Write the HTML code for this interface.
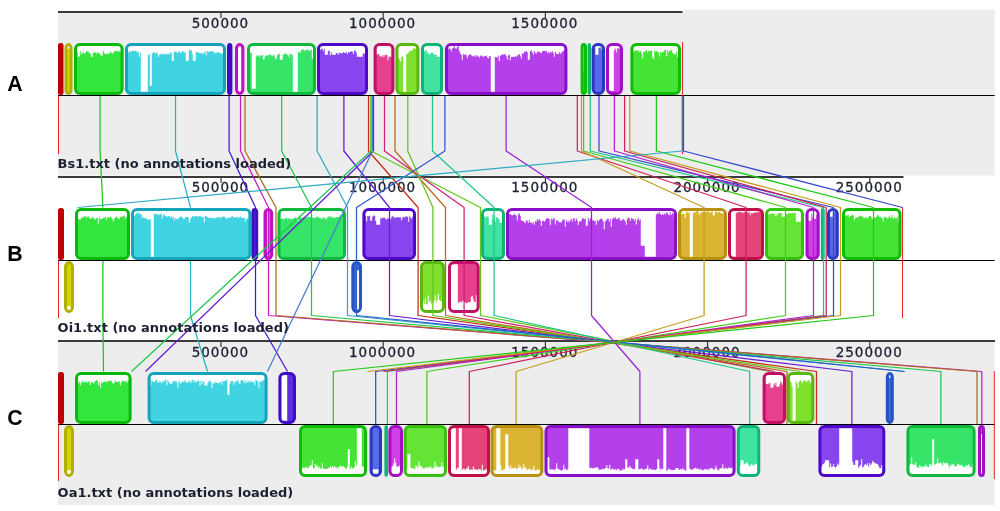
<!DOCTYPE html><html><head><meta charset="utf-8"><style>html,body{margin:0;padding:0;background:#fff;width:1000px;height:511px;overflow:hidden}svg{display:block}</style></head><body>
<svg width="1000" height="511" viewBox="0 0 1000 511">
<rect width="1000" height="511" fill="#fff"/>
<rect x="58" y="9.5" width="936.6" height="166" fill="#ededed"/>
<rect x="58" y="9.5" width="626" height="2" fill="#fff"/>
<rect x="58" y="341" width="936.6" height="164" fill="#ededed"/>
<rect x="59.5" y="44.5" width="2.5" height="49" rx="1" fill="#cc0000"/>
<rect x="59.5" y="44.5" width="2.5" height="49" rx="1" fill="none" stroke="#c00000" stroke-width="3"/>
<rect x="66" y="44.5" width="5" height="49" rx="3.5" fill="#d4d400"/>
<path d="M67.3,45.8 L67.3,48.8 L68.3,48.8 L68.3,48.8 L69.3,48.8 L69.3,48.8 L69.7,48.8 L69.7,45.8Z" fill="#fff"/>
<rect x="66" y="44.5" width="5" height="49" rx="3.5" fill="none" stroke="#b0b000" stroke-width="3"/>
<rect x="75.5" y="44.5" width="46.6" height="49" rx="4.5" fill="#33e63c"/>
<path d="M76.8,45.8 L76.8,52.23 L77.8,52.23 L77.8,57.1 L78.8,57.1 L78.8,56.37 L79.8,56.37 L79.8,51.18 L80.8,51.18 L80.8,54.43 L81.8,54.43 L81.8,53.17 L82.8,53.17 L82.8,52.03 L83.8,52.03 L83.8,53.99 L84.8,53.99 L84.8,52.88 L85.8,52.88 L85.8,51.35 L86.8,51.35 L86.8,51.61 L87.8,51.61 L87.8,51.14 L88.8,51.14 L88.8,53.25 L89.8,53.25 L89.8,53.22 L90.8,53.22 L90.8,56.8 L91.8,56.8 L91.8,56.8 L92.8,56.8 L92.8,52.86 L93.8,52.86 L93.8,52.22 L94.8,52.22 L94.8,52.44 L95.8,52.44 L95.8,53.63 L96.8,53.63 L96.8,52.26 L97.8,52.26 L97.8,52.69 L98.8,52.69 L98.8,53.51 L99.8,53.51 L99.8,54.61 L100.8,54.61 L100.8,55.8 L101.8,55.8 L101.8,55.8 L102.8,55.8 L102.8,50.95 L103.8,50.95 L103.8,53.01 L104.8,53.01 L104.8,54.09 L105.8,54.09 L105.8,53.89 L106.8,53.89 L106.8,53.44 L107.8,53.44 L107.8,54.13 L108.8,54.13 L108.8,53.18 L109.8,53.18 L109.8,51.51 L110.8,51.51 L110.8,52.83 L111.8,52.83 L111.8,53.86 L112.8,53.86 L112.8,52.8 L113.8,52.8 L113.8,51.25 L114.8,51.25 L114.8,51.18 L115.8,51.18 L115.8,50.8 L116.8,50.8 L116.8,50.89 L117.8,50.89 L117.8,51.78 L118.8,51.78 L118.8,51.08 L119.8,51.08 L119.8,52.36 L120.8,52.36 L120.8,45.8Z" fill="#fff"/>
<rect x="75.5" y="44.5" width="46.6" height="49" rx="4.5" fill="none" stroke="#0cb80c" stroke-width="3"/>
<rect x="126.5" y="44.5" width="98" height="49" rx="4.5" fill="#40d4e2"/>
<path d="M127.8,45.8 L127.8,52.85 L128.8,52.85 L128.8,51.52 L129.8,51.52 L129.8,50.81 L130.8,50.81 L130.8,52 L131.8,52 L131.8,50.76 L132.8,50.76 L132.8,50.62 L133.8,50.62 L133.8,51.56 L134.8,51.56 L134.8,50.56 L135.8,50.56 L135.8,51.06 L136.8,51.06 L136.8,52.6 L137.8,52.6 L137.8,52.12 L138.8,52.12 L138.8,56.75 L139.8,56.75 L139.8,52.64 L140.8,52.64 L140.8,91.8 L141.8,91.8 L141.8,91.8 L142.8,91.8 L142.8,91.8 L143.8,91.8 L143.8,91.8 L144.8,91.8 L144.8,91.8 L145.8,91.8 L145.8,91.8 L146.8,91.8 L146.8,91.8 L147.8,91.8 L147.8,54.7 L148.8,54.7 L148.8,54.19 L149.8,54.19 L149.8,85.8 L150.8,85.8 L150.8,85.8 L151.8,85.8 L151.8,53.59 L152.8,53.59 L152.8,52.17 L153.8,52.17 L153.8,52.36 L154.8,52.36 L154.8,53.64 L155.8,53.64 L155.8,52.29 L156.8,52.29 L156.8,53.08 L157.8,53.08 L157.8,56.9 L158.8,56.9 L158.8,54.71 L159.8,54.71 L159.8,54.56 L160.8,54.56 L160.8,53.7 L161.8,53.7 L161.8,54.29 L162.8,54.29 L162.8,54.44 L163.8,54.44 L163.8,53.13 L164.8,53.13 L164.8,54.39 L165.8,54.39 L165.8,54.35 L166.8,54.35 L166.8,54.11 L167.8,54.11 L167.8,53.44 L168.8,53.44 L168.8,54.76 L169.8,54.76 L169.8,51.97 L170.8,51.97 L170.8,53.47 L171.8,53.47 L171.8,60.8 L172.8,60.8 L172.8,60.8 L173.8,60.8 L173.8,52.02 L174.8,52.02 L174.8,51.19 L175.8,51.19 L175.8,51.88 L176.8,51.88 L176.8,52.62 L177.8,52.62 L177.8,52.45 L178.8,52.45 L178.8,51.05 L179.8,51.05 L179.8,52.5 L180.8,52.5 L180.8,52.63 L181.8,52.63 L181.8,51.34 L182.8,51.34 L182.8,51.25 L183.8,51.25 L183.8,52.71 L184.8,52.71 L184.8,51.89 L185.8,51.89 L185.8,60.8 L186.8,60.8 L186.8,60.8 L187.8,60.8 L187.8,60.8 L188.8,60.8 L188.8,49.58 L189.8,49.58 L189.8,50.85 L190.8,50.85 L190.8,49.82 L191.8,49.82 L191.8,53.56 L192.8,53.56 L192.8,60.8 L193.8,60.8 L193.8,60.8 L194.8,60.8 L194.8,60.8 L195.8,60.8 L195.8,52.01 L196.8,52.01 L196.8,52 L197.8,52 L197.8,52.64 L198.8,52.64 L198.8,52.42 L199.8,52.42 L199.8,53.45 L200.8,53.45 L200.8,52.71 L201.8,52.71 L201.8,53.44 L202.8,53.44 L202.8,53.69 L203.8,53.69 L203.8,52.82 L204.8,52.82 L204.8,51.27 L205.8,51.27 L205.8,55.23 L206.8,55.23 L206.8,50.93 L207.8,50.93 L207.8,52.12 L208.8,52.12 L208.8,51.56 L209.8,51.56 L209.8,51.86 L210.8,51.86 L210.8,50.94 L211.8,50.94 L211.8,51 L212.8,51 L212.8,52.3 L213.8,52.3 L213.8,52.31 L214.8,52.31 L214.8,53.18 L215.8,53.18 L215.8,52.84 L216.8,52.84 L216.8,52.53 L217.8,52.53 L217.8,52.33 L218.8,52.33 L218.8,52.38 L219.8,52.38 L219.8,52.96 L220.8,52.96 L220.8,53.78 L221.8,53.78 L221.8,53.22 L222.8,53.22 L222.8,53.73 L223.2,53.73 L223.2,45.8Z" fill="#fff"/>
<rect x="126.5" y="44.5" width="98" height="49" rx="4.5" fill="none" stroke="#18a4b8" stroke-width="3"/>
<rect x="228.5" y="44.5" width="2.4" height="49" rx="2.2" fill="#5a2ee0"/>
<rect x="228.5" y="44.5" width="2.4" height="49" rx="2.2" fill="none" stroke="#3c0cc8" stroke-width="3"/>
<rect x="236.5" y="44.5" width="6.4" height="49" rx="4.2" fill="#d030d0"/>
<path d="M237.8,45.8 L237.8,92.8 L238.8,92.8 L238.8,92.8 L239.8,92.8 L239.8,92.8 L240.8,92.8 L240.8,92.8 L241.6,92.8 L241.6,45.8Z" fill="#fff"/>
<rect x="236.5" y="44.5" width="6.4" height="49" rx="4.2" fill="none" stroke="#c010c0" stroke-width="3"/>
<rect x="248.5" y="44.5" width="66" height="49" rx="4.5" fill="#36e468"/>
<path d="M249.8,45.8 L249.8,52.94 L250.8,52.94 L250.8,52.43 L251.8,52.43 L251.8,88.8 L252.8,88.8 L252.8,88.8 L253.8,88.8 L253.8,88.8 L254.8,88.8 L254.8,88.8 L255.8,88.8 L255.8,56.61 L256.8,56.61 L256.8,55.43 L257.8,55.43 L257.8,55.43 L258.8,55.43 L258.8,56.82 L259.8,56.82 L259.8,55.36 L260.8,55.36 L260.8,55.68 L261.8,55.68 L261.8,55.05 L262.8,55.05 L262.8,59.55 L263.8,59.55 L263.8,58.65 L264.8,58.65 L264.8,56.07 L265.8,56.07 L265.8,54.88 L266.8,54.88 L266.8,56.15 L267.8,56.15 L267.8,55 L268.8,55 L268.8,54.44 L269.8,54.44 L269.8,54.79 L270.8,54.79 L270.8,55.21 L271.8,55.21 L271.8,56.22 L272.8,56.22 L272.8,54.95 L273.8,54.95 L273.8,55.42 L274.8,55.42 L274.8,58.25 L275.8,58.25 L275.8,59.29 L276.8,59.29 L276.8,55.31 L277.8,55.31 L277.8,54.15 L278.8,54.15 L278.8,53.64 L279.8,53.64 L279.8,59.8 L280.8,59.8 L280.8,59.8 L281.8,59.8 L281.8,59.8 L282.8,59.8 L282.8,54.67 L283.8,54.67 L283.8,53.84 L284.8,53.84 L284.8,53.41 L285.8,53.41 L285.8,53.87 L286.8,53.87 L286.8,55.08 L287.8,55.08 L287.8,54.9 L288.8,54.9 L288.8,57.15 L289.8,57.15 L289.8,53.55 L290.8,53.55 L290.8,54.48 L291.8,54.48 L291.8,54.63 L292.8,54.63 L292.8,91.8 L293.8,91.8 L293.8,91.8 L294.8,91.8 L294.8,91.8 L295.8,91.8 L295.8,91.8 L296.8,91.8 L296.8,91.8 L297.8,91.8 L297.8,52.31 L298.8,52.31 L298.8,51.62 L299.8,51.62 L299.8,53.03 L300.8,53.03 L300.8,49.68 L301.8,49.68 L301.8,49.74 L302.8,49.74 L302.8,49.34 L303.8,49.34 L303.8,51.01 L304.8,51.01 L304.8,50.2 L305.8,50.2 L305.8,49.92 L306.8,49.92 L306.8,49.48 L307.8,49.48 L307.8,49.55 L308.8,49.55 L308.8,51.22 L309.8,51.22 L309.8,50.07 L310.8,50.07 L310.8,49.8 L311.8,49.8 L311.8,58.8 L312.8,58.8 L312.8,58.8 L313.2,58.8 L313.2,45.8Z" fill="#fff"/>
<rect x="248.5" y="44.5" width="66" height="49" rx="4.5" fill="none" stroke="#10b840" stroke-width="3"/>
<rect x="318.5" y="44.5" width="48" height="49" rx="4.5" fill="#8844ee"/>
<path d="M319.8,45.8 L319.8,49.92 L320.8,49.92 L320.8,48.88 L321.8,48.88 L321.8,48.68 L322.8,48.68 L322.8,51.2 L323.8,51.2 L323.8,48.83 L324.8,48.83 L324.8,54.8 L325.8,54.8 L325.8,54.8 L326.8,54.8 L326.8,54.8 L327.8,54.8 L327.8,50.89 L328.8,50.89 L328.8,50.54 L329.8,50.54 L329.8,55.34 L330.8,55.34 L330.8,52.35 L331.8,52.35 L331.8,54.8 L332.8,54.8 L332.8,54.8 L333.8,54.8 L333.8,54.8 L334.8,54.8 L334.8,54.8 L335.8,54.8 L335.8,52.97 L336.8,52.97 L336.8,53.22 L337.8,53.22 L337.8,54.72 L338.8,54.72 L338.8,52.4 L339.8,52.4 L339.8,53.31 L340.8,53.31 L340.8,53.23 L341.8,53.23 L341.8,53.3 L342.8,53.3 L342.8,52.01 L343.8,52.01 L343.8,53.01 L344.8,53.01 L344.8,52.94 L345.8,52.94 L345.8,51.85 L346.8,51.85 L346.8,54.23 L347.8,54.23 L347.8,52.29 L348.8,52.29 L348.8,52.35 L349.8,52.35 L349.8,51.69 L350.8,51.69 L350.8,51.36 L351.8,51.36 L351.8,51.76 L352.8,51.76 L352.8,53.94 L353.8,53.94 L353.8,50.75 L354.8,50.75 L354.8,50.5 L355.8,50.5 L355.8,52.41 L356.8,52.41 L356.8,56.8 L357.8,56.8 L357.8,56.8 L358.8,56.8 L358.8,56.8 L359.8,56.8 L359.8,56.8 L360.8,56.8 L360.8,56.8 L361.8,56.8 L361.8,56.8 L362.8,56.8 L362.8,52.91 L363.8,52.91 L363.8,54.11 L364.8,54.11 L364.8,53.81 L365.2,53.81 L365.2,45.8Z" fill="#fff"/>
<rect x="318.5" y="44.5" width="48" height="49" rx="4.5" fill="none" stroke="#5008c8" stroke-width="3"/>
<rect x="375.1" y="44.5" width="17.8" height="49" rx="4.5" fill="#e6408e"/>
<path d="M376.4,45.8 L376.4,54.55 L377.4,54.55 L377.4,54.28 L378.4,54.28 L378.4,54.01 L379.4,54.01 L379.4,56.03 L380.4,56.03 L380.4,56.39 L381.4,56.39 L381.4,56.69 L382.4,56.69 L382.4,55.09 L383.4,55.09 L383.4,57.2 L384.4,57.2 L384.4,55.24 L385.4,55.24 L385.4,54.76 L386.4,54.76 L386.4,54.71 L387.4,54.71 L387.4,60.23 L388.4,60.23 L388.4,56.42 L389.4,56.42 L389.4,56.8 L390.4,56.8 L390.4,56.87 L391.4,56.87 L391.4,55.52 L391.6,55.52 L391.6,45.8Z" fill="#fff"/>
<rect x="375.1" y="44.5" width="17.8" height="49" rx="4.5" fill="none" stroke="#c01068" stroke-width="3"/>
<rect x="396.9" y="44.5" width="21" height="49" rx="4.5" fill="#80e030"/>
<path d="M398.2,45.8 L398.2,58.3 L399.2,58.3 L399.2,59.33 L400.2,59.33 L400.2,61.75 L401.2,61.75 L401.2,57.11 L402.2,57.11 L402.2,56.46 L403.2,56.46 L403.2,91.8 L404.2,91.8 L404.2,91.8 L405.2,91.8 L405.2,91.8 L406.2,91.8 L406.2,53.91 L407.2,53.91 L407.2,53.61 L408.2,53.61 L408.2,52.46 L409.2,52.46 L409.2,50.76 L410.2,50.76 L410.2,50.63 L411.2,50.63 L411.2,50.63 L412.2,50.63 L412.2,49.15 L413.2,49.15 L413.2,48.45 L414.2,48.45 L414.2,48.31 L415.2,48.31 L415.2,48.74 L416.2,48.74 L416.2,47.79 L416.6,47.79 L416.6,45.8Z" fill="#fff"/>
<rect x="396.9" y="44.5" width="21" height="49" rx="4.5" fill="none" stroke="#58b810" stroke-width="3"/>
<rect x="422.5" y="44.5" width="19" height="49" rx="4.5" fill="#40e4a0"/>
<path d="M423.8,45.8 L423.8,51.33 L424.8,51.33 L424.8,50.71 L425.8,50.71 L425.8,49.89 L426.8,49.89 L426.8,53.1 L427.8,53.1 L427.8,52.87 L428.8,52.87 L428.8,54.86 L429.8,54.86 L429.8,53.39 L430.8,53.39 L430.8,52.8 L431.8,52.8 L431.8,52.65 L432.8,52.65 L432.8,53.08 L433.8,53.08 L433.8,54.92 L434.8,54.92 L434.8,54.39 L435.8,54.39 L435.8,54.55 L436.8,54.55 L436.8,57 L437.8,57 L437.8,56.8 L438.8,56.8 L438.8,56.8 L439.8,56.8 L439.8,56.8 L440.2,56.8 L440.2,45.8Z" fill="#fff"/>
<rect x="422.5" y="44.5" width="19" height="49" rx="4.5" fill="none" stroke="#10b478" stroke-width="3"/>
<rect x="446.5" y="44.5" width="119.4" height="49" rx="4.5" fill="#b440ec"/>
<path d="M447.8,45.8 L447.8,49.18 L448.8,49.18 L448.8,47.63 L449.8,47.63 L449.8,48.89 L450.8,48.89 L450.8,51.19 L451.8,51.19 L451.8,48.6 L452.8,48.6 L452.8,47.67 L453.8,47.67 L453.8,45.8 L454.8,45.8 L454.8,48.16 L455.8,48.16 L455.8,48.76 L456.8,48.76 L456.8,46.99 L457.8,46.99 L457.8,46.07 L458.8,46.07 L458.8,50.84 L459.8,50.84 L459.8,53.6 L460.8,53.6 L460.8,54.85 L461.8,54.85 L461.8,59.67 L462.8,59.67 L462.8,53.81 L463.8,53.81 L463.8,54.97 L464.8,54.97 L464.8,53.84 L465.8,53.84 L465.8,55.24 L466.8,55.24 L466.8,58.14 L467.8,58.14 L467.8,55.47 L468.8,55.47 L468.8,54.83 L469.8,54.83 L469.8,53.97 L470.8,53.97 L470.8,55.18 L471.8,55.18 L471.8,56.26 L472.8,56.26 L472.8,56.14 L473.8,56.14 L473.8,55.41 L474.8,55.41 L474.8,56.7 L475.8,56.7 L475.8,54.98 L476.8,54.98 L476.8,56.56 L477.8,56.56 L477.8,55.81 L478.8,55.81 L478.8,57.77 L479.8,57.77 L479.8,55.61 L480.8,55.61 L480.8,56.13 L481.8,56.13 L481.8,55.58 L482.8,55.58 L482.8,57.15 L483.8,57.15 L483.8,55.96 L484.8,55.96 L484.8,55.9 L485.8,55.9 L485.8,55.61 L486.8,55.61 L486.8,57.23 L487.8,57.23 L487.8,58.42 L488.8,58.42 L488.8,56.35 L489.8,56.35 L489.8,56.37 L490.8,56.37 L490.8,91.8 L491.8,91.8 L491.8,91.8 L492.8,91.8 L492.8,91.8 L493.8,91.8 L493.8,91.8 L494.8,91.8 L494.8,57.07 L495.8,57.07 L495.8,57.02 L496.8,57.02 L496.8,57.63 L497.8,57.63 L497.8,55.42 L498.8,55.42 L498.8,60.96 L499.8,60.96 L499.8,55.64 L500.8,55.64 L500.8,55.2 L501.8,55.2 L501.8,53.97 L502.8,53.97 L502.8,54.68 L503.8,54.68 L503.8,54.18 L504.8,54.18 L504.8,54.28 L505.8,54.28 L505.8,56.31 L506.8,56.31 L506.8,59.54 L507.8,59.54 L507.8,55.37 L508.8,55.37 L508.8,54.65 L509.8,54.65 L509.8,60.23 L510.8,60.23 L510.8,57.12 L511.8,57.12 L511.8,57.01 L512.8,57.01 L512.8,56.8 L513.8,56.8 L513.8,56.96 L514.8,56.96 L514.8,55.68 L515.8,55.68 L515.8,57.25 L516.8,57.25 L516.8,55.53 L517.8,55.53 L517.8,55.11 L518.8,55.11 L518.8,53.95 L519.8,53.95 L519.8,55.81 L520.8,55.81 L520.8,58.56 L521.8,58.56 L521.8,53.25 L522.8,53.25 L522.8,53.79 L523.8,53.79 L523.8,51.7 L524.8,51.7 L524.8,51.77 L525.8,51.77 L525.8,50.79 L526.8,50.79 L526.8,52.26 L527.8,52.26 L527.8,59.8 L528.8,59.8 L528.8,59.8 L529.8,59.8 L529.8,51.37 L530.8,51.37 L530.8,50.35 L531.8,50.35 L531.8,52.19 L532.8,52.19 L532.8,54.67 L533.8,54.67 L533.8,50.9 L534.8,50.9 L534.8,52.83 L535.8,52.83 L535.8,53.86 L536.8,53.86 L536.8,51.8 L537.8,51.8 L537.8,51.75 L538.8,51.75 L538.8,51.64 L539.8,51.64 L539.8,52.44 L540.8,52.44 L540.8,53.3 L541.8,53.3 L541.8,51.24 L542.8,51.24 L542.8,51.09 L543.8,51.09 L543.8,51.3 L544.8,51.3 L544.8,50.82 L545.8,50.82 L545.8,50.81 L546.8,50.81 L546.8,52.89 L547.8,52.89 L547.8,51.81 L548.8,51.81 L548.8,53.61 L549.8,53.61 L549.8,51.77 L550.8,51.77 L550.8,52.51 L551.8,52.51 L551.8,50.98 L552.8,50.98 L552.8,52.78 L553.8,52.78 L553.8,56.83 L554.8,56.83 L554.8,51.49 L555.8,51.49 L555.8,53.48 L556.8,53.48 L556.8,54.05 L557.8,54.05 L557.8,54.05 L558.8,54.05 L558.8,52.08 L559.8,52.08 L559.8,53.63 L560.8,53.63 L560.8,53.05 L561.8,53.05 L561.8,51.62 L562.8,51.62 L562.8,50.88 L563.8,50.88 L563.8,51 L564.6,51 L564.6,45.8Z" fill="#fff"/>
<rect x="446.5" y="44.5" width="119.4" height="49" rx="4.5" fill="none" stroke="#8a10c8" stroke-width="3"/>
<rect x="582.1" y="44.5" width="3.4" height="49" rx="2.7" fill="#44e434"/>
<path d="M583.4,45.8 L583.4,70.8 L584.2,70.8 L584.2,45.8Z" fill="#fff"/>
<rect x="582.1" y="44.5" width="3.4" height="49" rx="2.7" fill="none" stroke="#10bc04" stroke-width="3"/>
<rect x="589.1" y="44.5" width="0.4" height="49" rx="1.2" fill="#40e4a0"/>
<rect x="589.1" y="44.5" width="0.4" height="49" rx="1.2" fill="none" stroke="#10b478" stroke-width="3"/>
<rect x="593.1" y="44.5" width="10.4" height="49" rx="4.5" fill="#5868e8"/>
<path d="M594.4,45.8 L594.4,48 L595.4,48 L595.4,54.8 L596.4,54.8 L596.4,54.8 L597.4,54.8 L597.4,54.8 L598.4,54.8 L598.4,48.1 L599.4,48.1 L599.4,47.34 L600.4,47.34 L600.4,47.5 L601.4,47.5 L601.4,50.12 L602.2,50.12 L602.2,45.8Z" fill="#fff"/>
<rect x="593.1" y="44.5" width="10.4" height="49" rx="4.5" fill="none" stroke="#2838c0" stroke-width="3"/>
<rect x="607.5" y="44.5" width="14" height="49" rx="4.5" fill="#d040e8"/>
<path d="M608.8,45.8 L608.8,90.8 L609.8,90.8 L609.8,90.8 L610.8,90.8 L610.8,90.8 L611.8,90.8 L611.8,90.8 L612.8,90.8 L612.8,90.8 L613.8,90.8 L613.8,50.08 L614.8,50.08 L614.8,48.46 L615.8,48.46 L615.8,52.62 L616.8,52.62 L616.8,48.29 L617.8,48.29 L617.8,48.38 L618.8,48.38 L618.8,48.55 L619.8,48.55 L619.8,47.45 L620.2,47.45 L620.2,45.8Z" fill="#fff"/>
<rect x="607.5" y="44.5" width="14" height="49" rx="4.5" fill="none" stroke="#a010c0" stroke-width="3"/>
<rect x="631.9" y="44.5" width="47.6" height="49" rx="4.5" fill="#44e434"/>
<path d="M633.2,45.8 L633.2,52.35 L634.2,52.35 L634.2,50.39 L635.2,50.39 L635.2,50.8 L636.2,50.8 L636.2,50.07 L637.2,50.07 L637.2,51.28 L638.2,51.28 L638.2,50.09 L639.2,50.09 L639.2,52.39 L640.2,52.39 L640.2,50.83 L641.2,50.83 L641.2,53.19 L642.2,53.19 L642.2,58.39 L643.2,58.39 L643.2,51.51 L644.2,51.51 L644.2,52.17 L645.2,52.17 L645.2,50.6 L646.2,50.6 L646.2,50.3 L647.2,50.3 L647.2,52.62 L648.2,52.62 L648.2,50.85 L649.2,50.85 L649.2,51.08 L650.2,51.08 L650.2,51.09 L651.2,51.09 L651.2,50.57 L652.2,50.57 L652.2,57.45 L653.2,57.45 L653.2,58.97 L654.2,58.97 L654.2,50.8 L655.2,50.8 L655.2,51.64 L656.2,51.64 L656.2,50.99 L657.2,50.99 L657.2,51.84 L658.2,51.84 L658.2,52.43 L659.2,52.43 L659.2,56.57 L660.2,56.57 L660.2,51.75 L661.2,51.75 L661.2,52.81 L662.2,52.81 L662.2,51.99 L663.2,51.99 L663.2,51.76 L664.2,51.76 L664.2,50.34 L665.2,50.34 L665.2,49.7 L666.2,49.7 L666.2,55.97 L667.2,55.97 L667.2,49.93 L668.2,49.93 L668.2,52.23 L669.2,52.23 L669.2,50.21 L670.2,50.21 L670.2,50.77 L671.2,50.77 L671.2,50.02 L672.2,50.02 L672.2,53.11 L673.2,53.11 L673.2,53.49 L674.2,53.49 L674.2,54.27 L675.2,54.27 L675.2,54.45 L676.2,54.45 L676.2,51.42 L677.2,51.42 L677.2,56.93 L678.2,56.93 L678.2,45.8Z" fill="#fff"/>
<rect x="631.9" y="44.5" width="47.6" height="49" rx="4.5" fill="none" stroke="#10bc04" stroke-width="3"/>
<rect x="59.5" y="209.5" width="3" height="49" rx="1" fill="#cc0000"/>
<rect x="59.5" y="209.5" width="3" height="49" rx="1" fill="none" stroke="#c00000" stroke-width="3"/>
<rect x="76.5" y="209.5" width="52" height="49" rx="4.5" fill="#33e63c"/>
<path d="M77.8,210.8 L77.8,218.63 L78.8,218.63 L78.8,219.38 L79.8,219.38 L79.8,219.38 L80.8,219.38 L80.8,218.36 L81.8,218.36 L81.8,217.05 L82.8,217.05 L82.8,217.56 L83.8,217.56 L83.8,216.21 L84.8,216.21 L84.8,216.14 L85.8,216.14 L85.8,217.8 L86.8,217.8 L86.8,216.72 L87.8,216.72 L87.8,216.17 L88.8,216.17 L88.8,217.67 L89.8,217.67 L89.8,218.97 L90.8,218.97 L90.8,218.47 L91.8,218.47 L91.8,216.75 L92.8,216.75 L92.8,217.85 L93.8,217.85 L93.8,218.79 L94.8,218.79 L94.8,219.74 L95.8,219.74 L95.8,218.02 L96.8,218.02 L96.8,217.69 L97.8,217.69 L97.8,223.63 L98.8,223.63 L98.8,217.26 L99.8,217.26 L99.8,219.19 L100.8,219.19 L100.8,218.82 L101.8,218.82 L101.8,219.1 L102.8,219.1 L102.8,217.74 L103.8,217.74 L103.8,217.82 L104.8,217.82 L104.8,216.61 L105.8,216.61 L105.8,219.89 L106.8,219.89 L106.8,217.36 L107.8,217.36 L107.8,217.18 L108.8,217.18 L108.8,217.85 L109.8,217.85 L109.8,216.86 L110.8,216.86 L110.8,217.39 L111.8,217.39 L111.8,219.07 L112.8,219.07 L112.8,221.5 L113.8,221.5 L113.8,218.76 L114.8,218.76 L114.8,217.82 L115.8,217.82 L115.8,216.22 L116.8,216.22 L116.8,217.45 L117.8,217.45 L117.8,218.15 L118.8,218.15 L118.8,219.34 L119.8,219.34 L119.8,217.52 L120.8,217.52 L120.8,216.22 L121.8,216.22 L121.8,216.94 L122.8,216.94 L122.8,216.06 L123.8,216.06 L123.8,215.61 L124.8,215.61 L124.8,218.47 L125.8,218.47 L125.8,217.06 L126.8,217.06 L126.8,217.56 L127.2,217.56 L127.2,210.8Z" fill="#fff"/>
<rect x="76.5" y="209.5" width="52" height="49" rx="4.5" fill="none" stroke="#0cb80c" stroke-width="3"/>
<rect x="132.5" y="209.5" width="117.5" height="49" rx="4.5" fill="#40d4e2"/>
<path d="M133.8,210.8 L133.8,216.14 L134.8,216.14 L134.8,214.38 L135.8,214.38 L135.8,212.87 L136.8,212.87 L136.8,214.04 L137.8,214.04 L137.8,212.21 L138.8,212.21 L138.8,213.27 L139.8,213.27 L139.8,214.37 L140.8,214.37 L140.8,214.39 L141.8,214.39 L141.8,217.96 L142.8,217.96 L142.8,216.93 L143.8,216.93 L143.8,218.31 L144.8,218.31 L144.8,217.72 L145.8,217.72 L145.8,218.38 L146.8,218.38 L146.8,219.28 L147.8,219.28 L147.8,220.12 L148.8,220.12 L148.8,219.47 L149.8,219.47 L149.8,218.88 L150.8,218.88 L150.8,256.8 L151.8,256.8 L151.8,256.8 L152.8,256.8 L152.8,256.8 L153.8,256.8 L153.8,213.64 L154.8,213.64 L154.8,214.23 L155.8,214.23 L155.8,213.94 L156.8,213.94 L156.8,214.64 L157.8,214.64 L157.8,214.59 L158.8,214.59 L158.8,214.68 L159.8,214.68 L159.8,214.43 L160.8,214.43 L160.8,213.32 L161.8,213.32 L161.8,218.55 L162.8,218.55 L162.8,215.13 L163.8,215.13 L163.8,214.55 L164.8,214.55 L164.8,216.04 L165.8,216.04 L165.8,216.1 L166.8,216.1 L166.8,217.1 L167.8,217.1 L167.8,215.86 L168.8,215.86 L168.8,216.25 L169.8,216.25 L169.8,217.61 L170.8,217.61 L170.8,216.18 L171.8,216.18 L171.8,217.93 L172.8,217.93 L172.8,216.49 L173.8,216.49 L173.8,220.59 L174.8,220.59 L174.8,217.76 L175.8,217.76 L175.8,218.43 L176.8,218.43 L176.8,219.61 L177.8,219.61 L177.8,218.2 L178.8,218.2 L178.8,217.41 L179.8,217.41 L179.8,216.41 L180.8,216.41 L180.8,216.72 L181.8,216.72 L181.8,217.02 L182.8,217.02 L182.8,218.64 L183.8,218.64 L183.8,218.89 L184.8,218.89 L184.8,216.8 L185.8,216.8 L185.8,217.1 L186.8,217.1 L186.8,216.93 L187.8,216.93 L187.8,217.34 L188.8,217.34 L188.8,222.76 L189.8,222.76 L189.8,219.4 L190.8,219.4 L190.8,217.78 L191.8,217.78 L191.8,216.12 L192.8,216.12 L192.8,216.77 L193.8,216.77 L193.8,216.17 L194.8,216.17 L194.8,216.35 L195.8,216.35 L195.8,216.16 L196.8,216.16 L196.8,216.12 L197.8,216.12 L197.8,217.15 L198.8,217.15 L198.8,215.95 L199.8,215.95 L199.8,215.42 L200.8,215.42 L200.8,216.86 L201.8,216.86 L201.8,217.21 L202.8,217.21 L202.8,216.78 L203.8,216.78 L203.8,222.6 L204.8,222.6 L204.8,216.12 L205.8,216.12 L205.8,216.13 L206.8,216.13 L206.8,216.79 L207.8,216.79 L207.8,218.05 L208.8,218.05 L208.8,217.42 L209.8,217.42 L209.8,218 L210.8,218 L210.8,217.95 L211.8,217.95 L211.8,217.14 L212.8,217.14 L212.8,218.23 L213.8,218.23 L213.8,218.38 L214.8,218.38 L214.8,217.67 L215.8,217.67 L215.8,217.83 L216.8,217.83 L216.8,217.61 L217.8,217.61 L217.8,216.98 L218.8,216.98 L218.8,216.96 L219.8,216.96 L219.8,218.39 L220.8,218.39 L220.8,217.09 L221.8,217.09 L221.8,217.04 L222.8,217.04 L222.8,216.56 L223.8,216.56 L223.8,216.44 L224.8,216.44 L224.8,217.76 L225.8,217.76 L225.8,218.8 L226.8,218.8 L226.8,217.63 L227.8,217.63 L227.8,218.25 L228.8,218.25 L228.8,217.5 L229.8,217.5 L229.8,217.74 L230.8,217.74 L230.8,216.66 L231.8,216.66 L231.8,215.81 L232.8,215.81 L232.8,217.44 L233.8,217.44 L233.8,217.23 L234.8,217.23 L234.8,217.02 L235.8,217.02 L235.8,217.28 L236.8,217.28 L236.8,217.7 L237.8,217.7 L237.8,217 L238.8,217 L238.8,217.56 L239.8,217.56 L239.8,216.37 L240.8,216.37 L240.8,217.75 L241.8,217.75 L241.8,217.91 L242.8,217.91 L242.8,218.06 L243.8,218.06 L243.8,217.67 L244.8,217.67 L244.8,221.39 L245.8,221.39 L245.8,218.84 L246.8,218.84 L246.8,218.83 L247.8,218.83 L247.8,218.44 L248.7,218.44 L248.7,210.8Z" fill="#fff"/>
<rect x="132.5" y="209.5" width="117.5" height="49" rx="4.5" fill="none" stroke="#18a4b8" stroke-width="3"/>
<rect x="253" y="209.5" width="3.7" height="49" rx="2.85" fill="#5a2ee0"/>
<rect x="253" y="209.5" width="3.7" height="49" rx="2.85" fill="none" stroke="#3c0cc8" stroke-width="3"/>
<rect x="265" y="209.5" width="6.7" height="49" rx="4.35" fill="#d030d0"/>
<path d="M266.3,210.8 L266.3,210.8 L267.3,210.8 L267.3,255.8 L268.3,255.8 L268.3,255.8 L269.3,255.8 L269.3,210.8 L270.3,210.8 L270.3,210.8 L270.4,210.8 L270.4,210.8Z" fill="#fff"/>
<rect x="265" y="209.5" width="6.7" height="49" rx="4.35" fill="none" stroke="#c010c0" stroke-width="3"/>
<rect x="279" y="209.5" width="65.5" height="49" rx="4.5" fill="#36e468"/>
<path d="M280.3,210.8 L280.3,218.38 L281.3,218.38 L281.3,219.06 L282.3,219.06 L282.3,218.15 L283.3,218.15 L283.3,219.22 L284.3,219.22 L284.3,218.92 L285.3,218.92 L285.3,217.76 L286.3,217.76 L286.3,217.64 L287.3,217.64 L287.3,219.43 L288.3,219.43 L288.3,218.09 L289.3,218.09 L289.3,218.65 L290.3,218.65 L290.3,218.77 L291.3,218.77 L291.3,219.56 L292.3,219.56 L292.3,218.83 L293.3,218.83 L293.3,218.03 L294.3,218.03 L294.3,218.09 L295.3,218.09 L295.3,217.4 L296.3,217.4 L296.3,220.36 L297.3,220.36 L297.3,220.85 L298.3,220.85 L298.3,217.73 L299.3,217.73 L299.3,217.48 L300.3,217.48 L300.3,217.03 L301.3,217.03 L301.3,218.48 L302.3,218.48 L302.3,217.25 L303.3,217.25 L303.3,217.16 L304.3,217.16 L304.3,216.45 L305.3,216.45 L305.3,217.74 L306.3,217.74 L306.3,217.33 L307.3,217.33 L307.3,216.56 L308.3,216.56 L308.3,216.53 L309.3,216.53 L309.3,217.55 L310.3,217.55 L310.3,217.03 L311.3,217.03 L311.3,217.04 L312.3,217.04 L312.3,217.84 L313.3,217.84 L313.3,218.31 L314.3,218.31 L314.3,217.5 L315.3,217.5 L315.3,217.47 L316.3,217.47 L316.3,216.61 L317.3,216.61 L317.3,217.1 L318.3,217.1 L318.3,217.39 L319.3,217.39 L319.3,217.71 L320.3,217.71 L320.3,218.28 L321.3,218.28 L321.3,219.03 L322.3,219.03 L322.3,217.17 L323.3,217.17 L323.3,218.42 L324.3,218.42 L324.3,216.99 L325.3,216.99 L325.3,219.59 L326.3,219.59 L326.3,218.42 L327.3,218.42 L327.3,217 L328.3,217 L328.3,216.17 L329.3,216.17 L329.3,217.28 L330.3,217.28 L330.3,216.14 L331.3,216.14 L331.3,217.16 L332.3,217.16 L332.3,217.68 L333.3,217.68 L333.3,217.54 L334.3,217.54 L334.3,217.68 L335.3,217.68 L335.3,217.53 L336.3,217.53 L336.3,217.07 L337.3,217.07 L337.3,216.95 L338.3,216.95 L338.3,217.17 L339.3,217.17 L339.3,215.73 L340.3,215.73 L340.3,214.86 L341.3,214.86 L341.3,214.3 L342.3,214.3 L342.3,214.24 L343.2,214.24 L343.2,210.8Z" fill="#fff"/>
<rect x="279" y="209.5" width="65.5" height="49" rx="4.5" fill="none" stroke="#10b840" stroke-width="3"/>
<rect x="363.9" y="209.5" width="50.6" height="49" rx="4.5" fill="#8844ee"/>
<path d="M365.2,210.8 L365.2,216.15 L366.2,216.15 L366.2,221.39 L367.2,221.39 L367.2,216.09 L368.2,216.09 L368.2,216.33 L369.2,216.33 L369.2,215.66 L370.2,215.66 L370.2,220.86 L371.2,220.86 L371.2,220.39 L372.2,220.39 L372.2,216.54 L373.2,216.54 L373.2,215.62 L374.2,215.62 L374.2,215.76 L375.2,215.76 L375.2,220.98 L376.2,220.98 L376.2,224.8 L377.2,224.8 L377.2,224.8 L378.2,224.8 L378.2,224.8 L379.2,224.8 L379.2,224.8 L380.2,224.8 L380.2,218.13 L381.2,218.13 L381.2,218.38 L382.2,218.38 L382.2,217.79 L383.2,217.79 L383.2,217.87 L384.2,217.87 L384.2,217.56 L385.2,217.56 L385.2,219.27 L386.2,219.27 L386.2,219.4 L387.2,219.4 L387.2,218.21 L388.2,218.21 L388.2,218.46 L389.2,218.46 L389.2,223.04 L390.2,223.04 L390.2,219.09 L391.2,219.09 L391.2,216.81 L392.2,216.81 L392.2,215.72 L393.2,215.72 L393.2,217.53 L394.2,217.53 L394.2,217.29 L395.2,217.29 L395.2,217.72 L396.2,217.72 L396.2,217.14 L397.2,217.14 L397.2,217.18 L398.2,217.18 L398.2,217.18 L399.2,217.18 L399.2,217.18 L400.2,217.18 L400.2,217.46 L401.2,217.46 L401.2,220.4 L402.2,220.4 L402.2,217.53 L403.2,217.53 L403.2,216.66 L404.2,216.66 L404.2,217.47 L405.2,217.47 L405.2,216.42 L406.2,216.42 L406.2,216.55 L407.2,216.55 L407.2,216.69 L408.2,216.69 L408.2,221.82 L409.2,221.82 L409.2,216.37 L410.2,216.37 L410.2,217.83 L411.2,217.83 L411.2,218.7 L412.2,218.7 L412.2,216.72 L413.2,216.72 L413.2,210.8Z" fill="#fff"/>
<rect x="363.9" y="209.5" width="50.6" height="49" rx="4.5" fill="none" stroke="#5008c8" stroke-width="3"/>
<rect x="482.5" y="209.5" width="21" height="49" rx="4.5" fill="#40e4a0"/>
<path d="M483.8,210.8 L483.8,216.16 L484.8,216.16 L484.8,217.8 L485.8,217.8 L485.8,216.16 L486.8,216.16 L486.8,216.49 L487.8,216.49 L487.8,216.7 L488.8,216.7 L488.8,224.8 L489.8,224.8 L489.8,224.8 L490.8,224.8 L490.8,224.8 L491.8,224.8 L491.8,214.53 L492.8,214.53 L492.8,219.62 L493.8,219.62 L493.8,216.05 L494.8,216.05 L494.8,221.61 L495.8,221.61 L495.8,216.96 L496.8,216.96 L496.8,217.89 L497.8,217.89 L497.8,218.34 L498.8,218.34 L498.8,219.71 L499.8,219.71 L499.8,222.8 L500.8,222.8 L500.8,222.8 L501.8,222.8 L501.8,222.8 L502.2,222.8 L502.2,210.8Z" fill="#fff"/>
<rect x="482.5" y="209.5" width="21" height="49" rx="4.5" fill="none" stroke="#10b478" stroke-width="3"/>
<rect x="507.5" y="209.5" width="168" height="49" rx="4.5" fill="#b440ec"/>
<path d="M508.8,210.8 L508.8,213.9 L509.8,213.9 L509.8,214.18 L510.8,214.18 L510.8,214.74 L511.8,214.74 L511.8,215.48 L512.8,215.48 L512.8,215.05 L513.8,215.05 L513.8,213.86 L514.8,213.86 L514.8,215.12 L515.8,215.12 L515.8,215.56 L516.8,215.56 L516.8,220.58 L517.8,220.58 L517.8,214.61 L518.8,214.61 L518.8,213.32 L519.8,213.32 L519.8,215.8 L520.8,215.8 L520.8,220.16 L521.8,220.16 L521.8,220.9 L522.8,220.9 L522.8,220.92 L523.8,220.92 L523.8,221.96 L524.8,221.96 L524.8,223.25 L525.8,223.25 L525.8,220.04 L526.8,220.04 L526.8,220.83 L527.8,220.83 L527.8,222.9 L528.8,222.9 L528.8,220.1 L529.8,220.1 L529.8,222.62 L530.8,222.62 L530.8,222.42 L531.8,222.42 L531.8,223.61 L532.8,223.61 L532.8,221.97 L533.8,221.97 L533.8,224.77 L534.8,224.77 L534.8,221.18 L535.8,221.18 L535.8,221.42 L536.8,221.42 L536.8,219.16 L537.8,219.16 L537.8,220.38 L538.8,220.38 L538.8,218.67 L539.8,218.67 L539.8,220.55 L540.8,220.55 L540.8,226.11 L541.8,226.11 L541.8,221.07 L542.8,221.07 L542.8,220.61 L543.8,220.61 L543.8,221.83 L544.8,221.83 L544.8,220.41 L545.8,220.41 L545.8,218.6 L546.8,218.6 L546.8,217.93 L547.8,217.93 L547.8,218.52 L548.8,218.52 L548.8,218.91 L549.8,218.91 L549.8,225.13 L550.8,225.13 L550.8,218.56 L551.8,218.56 L551.8,219.97 L552.8,219.97 L552.8,218.29 L553.8,218.29 L553.8,218.57 L554.8,218.57 L554.8,224.39 L555.8,224.39 L555.8,220.55 L556.8,220.55 L556.8,220.37 L557.8,220.37 L557.8,221.27 L558.8,221.27 L558.8,222.35 L559.8,222.35 L559.8,222.14 L560.8,222.14 L560.8,222.56 L561.8,222.56 L561.8,220.51 L562.8,220.51 L562.8,219.52 L563.8,219.52 L563.8,219.51 L564.8,219.51 L564.8,226.7 L565.8,226.7 L565.8,219.95 L566.8,219.95 L566.8,221.94 L567.8,221.94 L567.8,220.84 L568.8,220.84 L568.8,222.24 L569.8,222.24 L569.8,220.17 L570.8,220.17 L570.8,218.38 L571.8,218.38 L571.8,221.54 L572.8,221.54 L572.8,218.31 L573.8,218.31 L573.8,218.61 L574.8,218.61 L574.8,221.22 L575.8,221.22 L575.8,218.24 L576.8,218.24 L576.8,220.21 L577.8,220.21 L577.8,224.91 L578.8,224.91 L578.8,221.78 L579.8,221.78 L579.8,221.3 L580.8,221.3 L580.8,220.74 L581.8,220.74 L581.8,218.33 L582.8,218.33 L582.8,218.18 L583.8,218.18 L583.8,219.15 L584.8,219.15 L584.8,218.38 L585.8,218.38 L585.8,225.88 L586.8,225.88 L586.8,225.39 L587.8,225.39 L587.8,218.08 L588.8,218.08 L588.8,220.87 L589.8,220.87 L589.8,218.53 L590.8,218.53 L590.8,217.52 L591.8,217.52 L591.8,220.56 L592.8,220.56 L592.8,219.85 L593.8,219.85 L593.8,221.29 L594.8,221.29 L594.8,220.9 L595.8,220.9 L595.8,224.67 L596.8,224.67 L596.8,219.73 L597.8,219.73 L597.8,221.46 L598.8,221.46 L598.8,219.98 L599.8,219.98 L599.8,218.82 L600.8,218.82 L600.8,218.7 L601.8,218.7 L601.8,219.38 L602.8,219.38 L602.8,221.49 L603.8,221.49 L603.8,229.27 L604.8,229.27 L604.8,221.53 L605.8,221.53 L605.8,220.3 L606.8,220.3 L606.8,218.87 L607.8,218.87 L607.8,218.86 L608.8,218.86 L608.8,221.74 L609.8,221.74 L609.8,218.65 L610.8,218.65 L610.8,227.01 L611.8,227.01 L611.8,219.35 L612.8,219.35 L612.8,217.44 L613.8,217.44 L613.8,218.25 L614.8,218.25 L614.8,216.99 L615.8,216.99 L615.8,218.94 L616.8,218.94 L616.8,219.2 L617.8,219.2 L617.8,218.31 L618.8,218.31 L618.8,217.63 L619.8,217.63 L619.8,220.27 L620.8,220.27 L620.8,221.04 L621.8,221.04 L621.8,219.87 L622.8,219.87 L622.8,218.8 L623.8,218.8 L623.8,219.96 L624.8,219.96 L624.8,221.27 L625.8,221.27 L625.8,224.81 L626.8,224.81 L626.8,219.09 L627.8,219.09 L627.8,217.53 L628.8,217.53 L628.8,218.26 L629.8,218.26 L629.8,220.92 L630.8,220.92 L630.8,217.99 L631.8,217.99 L631.8,219.06 L632.8,219.06 L632.8,218.48 L633.8,218.48 L633.8,220.85 L634.8,220.85 L634.8,218.63 L635.8,218.63 L635.8,224.55 L636.8,224.55 L636.8,219.56 L637.8,219.56 L637.8,217.99 L638.8,217.99 L638.8,220.61 L639.8,220.61 L639.8,219.27 L640.8,219.27 L640.8,245.8 L641.8,245.8 L641.8,245.8 L642.8,245.8 L642.8,245.8 L643.8,245.8 L643.8,245.8 L644.8,245.8 L644.8,256.8 L645.8,256.8 L645.8,256.8 L646.8,256.8 L646.8,256.8 L647.8,256.8 L647.8,256.8 L648.8,256.8 L648.8,256.8 L649.8,256.8 L649.8,256.8 L650.8,256.8 L650.8,256.8 L651.8,256.8 L651.8,256.8 L652.8,256.8 L652.8,256.8 L653.8,256.8 L653.8,256.8 L654.8,256.8 L654.8,256.8 L655.8,256.8 L655.8,214.39 L656.8,214.39 L656.8,213.25 L657.8,213.25 L657.8,213.7 L658.8,213.7 L658.8,211.84 L659.8,211.84 L659.8,213.91 L660.8,213.91 L660.8,215 L661.8,215 L661.8,213.39 L662.8,213.39 L662.8,214.88 L663.8,214.88 L663.8,213.38 L664.8,213.38 L664.8,214.59 L665.8,214.59 L665.8,212.57 L666.8,212.57 L666.8,212.75 L667.8,212.75 L667.8,214.49 L668.8,214.49 L668.8,215.15 L669.8,215.15 L669.8,211.92 L670.8,211.92 L670.8,214.9 L671.8,214.9 L671.8,212.72 L672.8,212.72 L672.8,213.7 L673.8,213.7 L673.8,217.85 L674.2,217.85 L674.2,210.8Z" fill="#fff"/>
<rect x="507.5" y="209.5" width="168" height="49" rx="4.5" fill="none" stroke="#8a10c8" stroke-width="3"/>
<rect x="679.5" y="209.5" width="46" height="49" rx="4.5" fill="#dcb434"/>
<path d="M680.8,210.8 L680.8,214.73 L681.8,214.73 L681.8,213.53 L682.8,213.53 L682.8,213.86 L683.8,213.86 L683.8,213.65 L684.8,213.65 L684.8,217.7 L685.8,217.7 L685.8,212.21 L686.8,212.21 L686.8,211.68 L687.8,211.68 L687.8,213.19 L688.8,213.19 L688.8,211.96 L689.8,211.96 L689.8,256.8 L690.8,256.8 L690.8,256.8 L691.8,256.8 L691.8,256.8 L692.8,256.8 L692.8,212.6 L693.8,212.6 L693.8,212.44 L694.8,212.44 L694.8,212.26 L695.8,212.26 L695.8,211.37 L696.8,211.37 L696.8,211.02 L697.8,211.02 L697.8,211.61 L698.8,211.61 L698.8,215.03 L699.8,215.03 L699.8,212.87 L700.8,212.87 L700.8,212.68 L701.8,212.68 L701.8,211.66 L702.8,211.66 L702.8,211.97 L703.8,211.97 L703.8,212.48 L704.8,212.48 L704.8,211.87 L705.8,211.87 L705.8,211.43 L706.8,211.43 L706.8,211.69 L707.8,211.69 L707.8,210.82 L708.8,210.82 L708.8,212.72 L709.8,212.72 L709.8,212.59 L710.8,212.59 L710.8,211.84 L711.8,211.84 L711.8,211.61 L712.8,211.61 L712.8,215.78 L713.8,215.78 L713.8,214.91 L714.8,214.91 L714.8,211.95 L715.8,211.95 L715.8,211.16 L716.8,211.16 L716.8,213.1 L717.8,213.1 L717.8,211.68 L718.8,211.68 L718.8,211.7 L719.8,211.7 L719.8,212.39 L720.8,212.39 L720.8,213.17 L721.8,213.17 L721.8,213.22 L722.8,213.22 L722.8,213.3 L723.8,213.3 L723.8,213.39 L724.2,213.39 L724.2,210.8Z" fill="#fff"/>
<rect x="679.5" y="209.5" width="46" height="49" rx="4.5" fill="none" stroke="#b89010" stroke-width="3"/>
<rect x="729.5" y="209.5" width="33" height="49" rx="4.5" fill="#e44478"/>
<path d="M730.8,210.8 L730.8,256.8 L731.8,256.8 L731.8,256.8 L732.8,256.8 L732.8,256.8 L733.8,256.8 L733.8,256.8 L734.8,256.8 L734.8,256.8 L735.8,256.8 L735.8,213.37 L736.8,213.37 L736.8,212.36 L737.8,212.36 L737.8,212.21 L738.8,212.21 L738.8,211.73 L739.8,211.73 L739.8,212.24 L740.8,212.24 L740.8,211.82 L741.8,211.82 L741.8,213.04 L742.8,213.04 L742.8,212.41 L743.8,212.41 L743.8,211.83 L744.8,211.83 L744.8,212.33 L745.8,212.33 L745.8,211.24 L746.8,211.24 L746.8,211.47 L747.8,211.47 L747.8,212.89 L748.8,212.89 L748.8,211.74 L749.8,211.74 L749.8,215.31 L750.8,215.31 L750.8,212.77 L751.8,212.77 L751.8,213.56 L752.8,213.56 L752.8,212.84 L753.8,212.84 L753.8,212.53 L754.8,212.53 L754.8,212.86 L755.8,212.86 L755.8,212.13 L756.8,212.13 L756.8,211.85 L757.8,211.85 L757.8,212.6 L758.8,212.6 L758.8,211.36 L759.8,211.36 L759.8,211.71 L760.8,211.71 L760.8,212.29 L761.2,212.29 L761.2,210.8Z" fill="#fff"/>
<rect x="729.5" y="209.5" width="33" height="49" rx="4.5" fill="none" stroke="#c01048" stroke-width="3"/>
<rect x="766.5" y="209.5" width="36" height="49" rx="4.5" fill="#64e434"/>
<path d="M767.8,210.8 L767.8,214.21 L768.8,214.21 L768.8,213.5 L769.8,213.5 L769.8,214.34 L770.8,214.34 L770.8,213.72 L771.8,213.72 L771.8,212.81 L772.8,212.81 L772.8,214.06 L773.8,214.06 L773.8,213.59 L774.8,213.59 L774.8,215.8 L775.8,215.8 L775.8,215.8 L776.8,215.8 L776.8,214.38 L777.8,214.38 L777.8,213.01 L778.8,213.01 L778.8,213.22 L779.8,213.22 L779.8,212.66 L780.8,212.66 L780.8,213.33 L781.8,213.33 L781.8,216.8 L782.8,216.8 L782.8,216.8 L783.8,216.8 L783.8,216.8 L784.8,216.8 L784.8,216.57 L785.8,216.57 L785.8,214.17 L786.8,214.17 L786.8,213.93 L787.8,213.93 L787.8,213.52 L788.8,213.52 L788.8,212.92 L789.8,212.92 L789.8,213.23 L790.8,213.23 L790.8,213.42 L791.8,213.42 L791.8,212.6 L792.8,212.6 L792.8,213.56 L793.8,213.56 L793.8,212.61 L794.8,212.61 L794.8,213.1 L795.8,213.1 L795.8,221.8 L796.8,221.8 L796.8,221.8 L797.8,221.8 L797.8,221.8 L798.8,221.8 L798.8,221.8 L799.8,221.8 L799.8,221.8 L800.8,221.8 L800.8,213.24 L801.2,213.24 L801.2,210.8Z" fill="#fff"/>
<rect x="766.5" y="209.5" width="36" height="49" rx="4.5" fill="none" stroke="#38c010" stroke-width="3"/>
<rect x="807" y="209.5" width="11.2" height="49" rx="4.5" fill="#d040e8"/>
<path d="M808.3,210.8 L808.3,220.8 L809.3,220.8 L809.3,220.8 L810.3,220.8 L810.3,220.8 L811.3,220.8 L811.3,213.57 L812.3,213.57 L812.3,217.86 L813.3,217.86 L813.3,218.8 L814.3,218.8 L814.3,218.8 L815.3,218.8 L815.3,218.8 L816.3,218.8 L816.3,214.97 L816.9,214.97 L816.9,210.8Z" fill="#fff"/>
<rect x="807" y="209.5" width="11.2" height="49" rx="4.5" fill="none" stroke="#a010c0" stroke-width="3"/>
<rect x="822.3" y="209.5" width="0.9" height="49" rx="1.45" fill="#40e4a0"/>
<rect x="822.3" y="209.5" width="0.9" height="49" rx="1.45" fill="none" stroke="#10b478" stroke-width="3"/>
<rect x="828.5" y="209.5" width="8.8" height="49" rx="4.5" fill="#5868e8"/>
<path d="M829.8,210.8 L829.8,216.8 L830.8,216.8 L830.8,216.8 L831.8,216.8 L831.8,216.8 L832.8,216.8 L832.8,212.17 L833.8,212.17 L833.8,212.31 L834.8,212.31 L834.8,211.55 L835.8,211.55 L835.8,211.31 L836,211.31 L836,210.8Z" fill="#fff"/>
<rect x="828.5" y="209.5" width="8.8" height="49" rx="4.5" fill="none" stroke="#2838c0" stroke-width="3"/>
<rect x="843.5" y="209.5" width="56.5" height="49" rx="4.5" fill="#44e434"/>
<path d="M844.8,210.8 L844.8,215.98 L845.8,215.98 L845.8,215.01 L846.8,215.01 L846.8,215.73 L847.8,215.73 L847.8,214.73 L848.8,214.73 L848.8,217.35 L849.8,217.35 L849.8,216 L850.8,216 L850.8,215.67 L851.8,215.67 L851.8,214.59 L852.8,214.59 L852.8,215.41 L853.8,215.41 L853.8,220.33 L854.8,220.33 L854.8,218.22 L855.8,218.22 L855.8,217.07 L856.8,217.07 L856.8,218.09 L857.8,218.09 L857.8,216.68 L858.8,216.68 L858.8,216.28 L859.8,216.28 L859.8,215.48 L860.8,215.48 L860.8,216.36 L861.8,216.36 L861.8,216.46 L862.8,216.46 L862.8,217.49 L863.8,217.49 L863.8,218.6 L864.8,218.6 L864.8,216.91 L865.8,216.91 L865.8,217.26 L866.8,217.26 L866.8,218.41 L867.8,218.41 L867.8,217.42 L868.8,217.42 L868.8,216.12 L869.8,216.12 L869.8,216.11 L870.8,216.11 L870.8,216.82 L871.8,216.82 L871.8,219.18 L872.8,219.18 L872.8,218.02 L873.8,218.02 L873.8,217.86 L874.8,217.86 L874.8,217.41 L875.8,217.41 L875.8,217.02 L876.8,217.02 L876.8,215.18 L877.8,215.18 L877.8,215.17 L878.8,215.17 L878.8,217.07 L879.8,217.07 L879.8,216.52 L880.8,216.52 L880.8,217.77 L881.8,217.77 L881.8,218.55 L882.8,218.55 L882.8,221.6 L883.8,221.6 L883.8,217.35 L884.8,217.35 L884.8,216.65 L885.8,216.65 L885.8,217.52 L886.8,217.52 L886.8,218.41 L887.8,218.41 L887.8,217.86 L888.8,217.86 L888.8,215.67 L889.8,215.67 L889.8,217.32 L890.8,217.32 L890.8,217.92 L891.8,217.92 L891.8,215.06 L892.8,215.06 L892.8,219.12 L893.8,219.12 L893.8,216.96 L894.8,216.96 L894.8,218.18 L895.8,218.18 L895.8,218.13 L896.8,218.13 L896.8,217.01 L897.8,217.01 L897.8,222.04 L898.7,222.04 L898.7,210.8Z" fill="#fff"/>
<rect x="843.5" y="209.5" width="56.5" height="49" rx="4.5" fill="none" stroke="#10bc04" stroke-width="3"/>
<rect x="65.5" y="262.5" width="7" height="49" rx="4.5" fill="#d4d400"/>
<path d="M66.8,310.2 L66.8,306.2 L67.8,306.2 L67.8,306.2 L68.8,306.2 L68.8,306.2 L69.8,306.2 L69.8,306.2 L70.8,306.2 L70.8,310.2 L71.2,310.2 L71.2,310.2Z" fill="#fff"/>
<rect x="65.5" y="262.5" width="7" height="49" rx="4.5" fill="none" stroke="#b0b000" stroke-width="3"/>
<rect x="352.8" y="262.5" width="7.7" height="49" rx="4.5" fill="#3c68dc"/>
<path d="M354.1,310.2 L354.1,310.2 L355.1,310.2 L355.1,310.2 L356.1,310.2 L356.1,270.2 L357.1,270.2 L357.1,270.2 L358.1,270.2 L358.1,270.2 L359.1,270.2 L359.1,310.2 L359.2,310.2 L359.2,310.2Z" fill="#fff"/>
<rect x="352.8" y="262.5" width="7.7" height="49" rx="4.5" fill="none" stroke="#2454c4" stroke-width="3"/>
<rect x="421.5" y="262.5" width="22" height="49" rx="4.5" fill="#80e030"/>
<path d="M422.8,310.2 L422.8,300.76 L423.8,300.76 L423.8,304.07 L424.8,304.07 L424.8,298.83 L425.8,298.83 L425.8,304.26 L426.8,304.26 L426.8,304.43 L427.8,304.43 L427.8,295.51 L428.8,295.51 L428.8,302.57 L429.8,302.57 L429.8,300.62 L430.8,300.62 L430.8,303.78 L431.8,303.78 L431.8,303.15 L432.8,303.15 L432.8,301.54 L433.8,301.54 L433.8,300.25 L434.8,300.25 L434.8,295.57 L435.8,295.57 L435.8,302.42 L436.8,302.42 L436.8,300.05 L437.8,300.05 L437.8,293.87 L438.8,293.87 L438.8,299.87 L439.8,299.87 L439.8,301.14 L440.8,301.14 L440.8,301.12 L441.8,301.12 L441.8,298.97 L442.2,298.97 L442.2,310.2Z" fill="#fff"/>
<rect x="421.5" y="262.5" width="22" height="49" rx="4.5" fill="none" stroke="#58b810" stroke-width="3"/>
<rect x="449.5" y="262.5" width="28.7" height="49" rx="4.5" fill="#e6408e"/>
<path d="M450.8,310.2 L450.8,264.2 L451.8,264.2 L451.8,264.2 L452.8,264.2 L452.8,264.2 L453.8,264.2 L453.8,264.2 L454.8,264.2 L454.8,264.2 L455.8,264.2 L455.8,264.2 L456.8,264.2 L456.8,264.2 L457.8,264.2 L457.8,302.67 L458.8,302.67 L458.8,302.36 L459.8,302.36 L459.8,301.42 L460.8,301.42 L460.8,302.57 L461.8,302.57 L461.8,301.29 L462.8,301.29 L462.8,300.19 L463.8,300.19 L463.8,302.35 L464.8,302.35 L464.8,302.15 L465.8,302.15 L465.8,303.25 L466.8,303.25 L466.8,303.1 L467.8,303.1 L467.8,302.07 L468.8,302.07 L468.8,302.19 L469.8,302.19 L469.8,302.08 L470.8,302.08 L470.8,296.71 L471.8,296.71 L471.8,295.69 L472.8,295.69 L472.8,299.23 L473.8,299.23 L473.8,302.04 L474.8,302.04 L474.8,301.75 L475.8,301.75 L475.8,295.09 L476.8,295.09 L476.8,300.64 L476.9,300.64 L476.9,310.2Z" fill="#fff"/>
<rect x="449.5" y="262.5" width="28.7" height="49" rx="4.5" fill="none" stroke="#c01068" stroke-width="3"/>
<rect x="59.5" y="373.5" width="3" height="49" rx="1" fill="#cc0000"/>
<rect x="59.5" y="373.5" width="3" height="49" rx="1" fill="none" stroke="#c00000" stroke-width="3"/>
<rect x="76.5" y="373.5" width="53.6" height="49" rx="4.5" fill="#33e63c"/>
<path d="M77.8,374.8 L77.8,383.21 L78.8,383.21 L78.8,381.49 L79.8,381.49 L79.8,385.42 L80.8,385.42 L80.8,382.45 L81.8,382.45 L81.8,381.01 L82.8,381.01 L82.8,382.65 L83.8,382.65 L83.8,381.02 L84.8,381.02 L84.8,382.6 L85.8,382.6 L85.8,381.52 L86.8,381.52 L86.8,382.76 L87.8,382.76 L87.8,381.71 L88.8,381.71 L88.8,381.34 L89.8,381.34 L89.8,384.92 L90.8,384.92 L90.8,381.86 L91.8,381.86 L91.8,382.49 L92.8,382.49 L92.8,383.49 L93.8,383.49 L93.8,382.39 L94.8,382.39 L94.8,381.35 L95.8,381.35 L95.8,380.28 L96.8,380.28 L96.8,380.17 L97.8,380.17 L97.8,384.91 L98.8,384.91 L98.8,381.94 L99.8,381.94 L99.8,387.73 L100.8,387.73 L100.8,383.23 L101.8,383.23 L101.8,382.06 L102.8,382.06 L102.8,382.42 L103.8,382.42 L103.8,381.76 L104.8,381.76 L104.8,381.59 L105.8,381.59 L105.8,382.79 L106.8,382.79 L106.8,381.05 L107.8,381.05 L107.8,381.35 L108.8,381.35 L108.8,381.15 L109.8,381.15 L109.8,380.22 L110.8,380.22 L110.8,381.12 L111.8,381.12 L111.8,382.89 L112.8,382.89 L112.8,383.72 L113.8,383.72 L113.8,382.86 L114.8,382.86 L114.8,380.74 L115.8,380.74 L115.8,381.78 L116.8,381.78 L116.8,382.03 L117.8,382.03 L117.8,381.82 L118.8,381.82 L118.8,381.15 L119.8,381.15 L119.8,385.53 L120.8,385.53 L120.8,382.74 L121.8,382.74 L121.8,380.78 L122.8,380.78 L122.8,381.03 L123.8,381.03 L123.8,381.26 L124.8,381.26 L124.8,381.82 L125.8,381.82 L125.8,380.55 L126.8,380.55 L126.8,382.63 L127.8,382.63 L127.8,380.83 L128.8,380.83 L128.8,374.8Z" fill="#fff"/>
<rect x="76.5" y="373.5" width="53.6" height="49" rx="4.5" fill="none" stroke="#0cb80c" stroke-width="3"/>
<rect x="149.1" y="373.5" width="117" height="49" rx="4.5" fill="#40d4e2"/>
<path d="M150.4,374.8 L150.4,385.23 L151.4,385.23 L151.4,380.49 L152.4,380.49 L152.4,381.55 L153.4,381.55 L153.4,382 L154.4,382 L154.4,381.92 L155.4,381.92 L155.4,380.21 L156.4,380.21 L156.4,379.58 L157.4,379.58 L157.4,382.44 L158.4,382.44 L158.4,382.86 L159.4,382.86 L159.4,380.67 L160.4,380.67 L160.4,382.27 L161.4,382.27 L161.4,383.25 L162.4,383.25 L162.4,381.03 L163.4,381.03 L163.4,381.77 L164.4,381.77 L164.4,380.37 L165.4,380.37 L165.4,379.58 L166.4,379.58 L166.4,385.2 L167.4,385.2 L167.4,380.23 L168.4,380.23 L168.4,382.06 L169.4,382.06 L169.4,383.41 L170.4,383.41 L170.4,383.81 L171.4,383.81 L171.4,384.13 L172.4,384.13 L172.4,381.32 L173.4,381.32 L173.4,381.01 L174.4,381.01 L174.4,382.23 L175.4,382.23 L175.4,380.48 L176.4,380.48 L176.4,382.26 L177.4,382.26 L177.4,387.54 L178.4,387.54 L178.4,380.6 L179.4,380.6 L179.4,382.56 L180.4,382.56 L180.4,383.73 L181.4,383.73 L181.4,381.52 L182.4,381.52 L182.4,381.49 L183.4,381.49 L183.4,382.01 L184.4,382.01 L184.4,380.01 L185.4,380.01 L185.4,382.34 L186.4,382.34 L186.4,382.2 L187.4,382.2 L187.4,382.67 L188.4,382.67 L188.4,380.72 L189.4,380.72 L189.4,381.57 L190.4,381.57 L190.4,382.92 L191.4,382.92 L191.4,380.3 L192.4,380.3 L192.4,379.91 L193.4,379.91 L193.4,382.59 L194.4,382.59 L194.4,380.27 L195.4,380.27 L195.4,382.5 L196.4,382.5 L196.4,381.63 L197.4,381.63 L197.4,380.41 L198.4,380.41 L198.4,380.9 L199.4,380.9 L199.4,385.4 L200.4,385.4 L200.4,380.73 L201.4,380.73 L201.4,384.54 L202.4,384.54 L202.4,381.25 L203.4,381.25 L203.4,381.91 L204.4,381.91 L204.4,385.87 L205.4,385.87 L205.4,385.03 L206.4,385.03 L206.4,386.06 L207.4,386.06 L207.4,383.03 L208.4,383.03 L208.4,381.35 L209.4,381.35 L209.4,380.71 L210.4,380.71 L210.4,381.53 L211.4,381.53 L211.4,388.15 L212.4,388.15 L212.4,383.5 L213.4,383.5 L213.4,383.46 L214.4,383.46 L214.4,382.91 L215.4,382.91 L215.4,381.34 L216.4,381.34 L216.4,383.09 L217.4,383.09 L217.4,382.96 L218.4,382.96 L218.4,383.23 L219.4,383.23 L219.4,382.34 L220.4,382.34 L220.4,381.4 L221.4,381.4 L221.4,384.81 L222.4,384.81 L222.4,380.93 L223.4,380.93 L223.4,381.42 L224.4,381.42 L224.4,380.67 L225.4,380.67 L225.4,380.82 L226.4,380.82 L226.4,379.53 L227.4,379.53 L227.4,394.8 L228.4,394.8 L228.4,394.8 L229.4,394.8 L229.4,383.84 L230.4,383.84 L230.4,380.59 L231.4,380.59 L231.4,381.58 L232.4,381.58 L232.4,381.1 L233.4,381.1 L233.4,384.68 L234.4,384.68 L234.4,382.14 L235.4,382.14 L235.4,381.36 L236.4,381.36 L236.4,381.37 L237.4,381.37 L237.4,379.96 L238.4,379.96 L238.4,382.71 L239.4,382.71 L239.4,383.91 L240.4,383.91 L240.4,380.68 L241.4,380.68 L241.4,380.31 L242.4,380.31 L242.4,380.11 L243.4,380.11 L243.4,382.63 L244.4,382.63 L244.4,380.91 L245.4,380.91 L245.4,383.29 L246.4,383.29 L246.4,380.68 L247.4,380.68 L247.4,382.87 L248.4,382.87 L248.4,380.76 L249.4,380.76 L249.4,381.58 L250.4,381.58 L250.4,382.27 L251.4,382.27 L251.4,380.84 L252.4,380.84 L252.4,382.44 L253.4,382.44 L253.4,381.65 L254.4,381.65 L254.4,384.98 L255.4,384.98 L255.4,379.79 L256.4,379.79 L256.4,380.45 L257.4,380.45 L257.4,381.71 L258.4,381.71 L258.4,387.79 L259.4,387.79 L259.4,381.99 L260.4,381.99 L260.4,380.13 L261.4,380.13 L261.4,382.09 L262.4,382.09 L262.4,380.32 L263.4,380.32 L263.4,379.89 L264.4,379.89 L264.4,379.53 L264.8,379.53 L264.8,374.8Z" fill="#fff"/>
<rect x="149.1" y="373.5" width="117" height="49" rx="4.5" fill="none" stroke="#18a4b8" stroke-width="3"/>
<rect x="279.9" y="373.5" width="14.6" height="49" rx="4.5" fill="#5a2ee0"/>
<path d="M281.2,374.8 L281.2,420.8 L282.2,420.8 L282.2,420.8 L283.2,420.8 L283.2,420.8 L284.2,420.8 L284.2,420.8 L285.2,420.8 L285.2,420.8 L286.2,420.8 L286.2,420.8 L287.2,420.8 L287.2,374.8 L288.2,374.8 L288.2,374.8 L289.2,374.8 L289.2,374.8 L290.2,374.8 L290.2,374.8 L291.2,374.8 L291.2,374.8 L292.2,374.8 L292.2,374.8 L293.2,374.8 L293.2,374.8Z" fill="#fff"/>
<rect x="279.9" y="373.5" width="14.6" height="49" rx="4.5" fill="none" stroke="#3c0cc8" stroke-width="3"/>
<rect x="764.1" y="373.5" width="20.4" height="49" rx="4.5" fill="#e6408e"/>
<path d="M765.4,374.8 L765.4,383.5 L766.4,383.5 L766.4,384.04 L767.4,384.04 L767.4,384.5 L768.4,384.5 L768.4,383.38 L769.4,383.38 L769.4,382.71 L770.4,382.71 L770.4,387.8 L771.4,387.8 L771.4,387.8 L772.4,387.8 L772.4,387.8 L773.4,387.8 L773.4,383.52 L774.4,383.52 L774.4,385.42 L775.4,385.42 L775.4,382.45 L776.4,382.45 L776.4,386.8 L777.4,386.8 L777.4,386.8 L778.4,386.8 L778.4,386.8 L779.4,386.8 L779.4,384.37 L780.4,384.37 L780.4,381.37 L781.4,381.37 L781.4,383.17 L782.4,383.17 L782.4,385.29 L783.2,385.29 L783.2,374.8Z" fill="#fff"/>
<rect x="764.1" y="373.5" width="20.4" height="49" rx="4.5" fill="none" stroke="#c01068" stroke-width="3"/>
<rect x="788.3" y="373.5" width="24.5" height="49" rx="4.5" fill="#80e030"/>
<path d="M789.6,374.8 L789.6,380.43 L790.6,380.43 L790.6,382.25 L791.6,382.25 L791.6,386.14 L792.6,386.14 L792.6,420.8 L793.6,420.8 L793.6,420.8 L794.6,420.8 L794.6,420.8 L795.6,420.8 L795.6,381.37 L796.6,381.37 L796.6,383.22 L797.6,383.22 L797.6,388.11 L798.6,388.11 L798.6,381.91 L799.6,381.91 L799.6,380.12 L800.6,380.12 L800.6,380.86 L801.6,380.86 L801.6,383.21 L802.6,383.21 L802.6,381.22 L803.6,381.22 L803.6,380.67 L804.6,380.67 L804.6,380.36 L805.6,380.36 L805.6,382.31 L806.6,382.31 L806.6,381.19 L807.6,381.19 L807.6,380.48 L808.6,380.48 L808.6,380 L809.6,380 L809.6,382.61 L810.6,382.61 L810.6,383.06 L811.5,383.06 L811.5,374.8Z" fill="#fff"/>
<rect x="788.3" y="373.5" width="24.5" height="49" rx="4.5" fill="none" stroke="#58b810" stroke-width="3"/>
<rect x="887.3" y="373.5" width="5" height="49" rx="3.5" fill="#3c68dc"/>
<path d="M888.6,374.8 L888.6,377.8 L889.6,377.8 L889.6,377.8 L890.6,377.8 L890.6,374.8 L891,374.8 L891,374.8Z" fill="#fff"/>
<rect x="887.3" y="373.5" width="5" height="49" rx="3.5" fill="none" stroke="#2454c4" stroke-width="3"/>
<rect x="65.5" y="426.5" width="7" height="49" rx="4.5" fill="#d4d400"/>
<path d="M66.8,474.2 L66.8,470.2 L67.8,470.2 L67.8,470.2 L68.8,470.2 L68.8,470.2 L69.8,470.2 L69.8,470.2 L70.8,470.2 L70.8,474.2 L71.2,474.2 L71.2,474.2Z" fill="#fff"/>
<rect x="65.5" y="426.5" width="7" height="49" rx="4.5" fill="none" stroke="#b0b000" stroke-width="3"/>
<rect x="300.5" y="426.5" width="65" height="49" rx="4.5" fill="#44e434"/>
<path d="M301.8,474.2 L301.8,467.91 L302.8,467.91 L302.8,467.49 L303.8,467.49 L303.8,468.4 L304.8,468.4 L304.8,467.3 L305.8,467.3 L305.8,466.98 L306.8,466.98 L306.8,468.07 L307.8,468.07 L307.8,467.96 L308.8,467.96 L308.8,466.28 L309.8,466.28 L309.8,465.7 L310.8,465.7 L310.8,464.91 L311.8,464.91 L311.8,460.29 L312.8,460.29 L312.8,467.81 L313.8,467.81 L313.8,468.72 L314.8,468.72 L314.8,463.87 L315.8,463.87 L315.8,465.82 L316.8,465.82 L316.8,465.48 L317.8,465.48 L317.8,468.11 L318.8,468.11 L318.8,466.57 L319.8,466.57 L319.8,468.48 L320.8,468.48 L320.8,468.52 L321.8,468.52 L321.8,463.23 L322.8,463.23 L322.8,468.41 L323.8,468.41 L323.8,468.86 L324.8,468.86 L324.8,468.96 L325.8,468.96 L325.8,468.86 L326.8,468.86 L326.8,468.93 L327.8,468.93 L327.8,467.8 L328.8,467.8 L328.8,467.89 L329.8,467.89 L329.8,466.08 L330.8,466.08 L330.8,467.73 L331.8,467.73 L331.8,466.14 L332.8,466.14 L332.8,467.57 L333.8,467.57 L333.8,465.93 L334.8,465.93 L334.8,467.48 L335.8,467.48 L335.8,467.12 L336.8,467.12 L336.8,468.76 L337.8,468.76 L337.8,467.25 L338.8,467.25 L338.8,467.06 L339.8,467.06 L339.8,465.58 L340.8,465.58 L340.8,465.93 L341.8,465.93 L341.8,467.34 L342.8,467.34 L342.8,465.71 L343.8,465.71 L343.8,467.05 L344.8,467.05 L344.8,468.31 L345.8,468.31 L345.8,469.2 L346.8,469.2 L346.8,466.51 L347.8,466.51 L347.8,449.2 L348.8,449.2 L348.8,449.2 L349.8,449.2 L349.8,468.67 L350.8,468.67 L350.8,466.79 L351.8,466.79 L351.8,468.52 L352.8,468.52 L352.8,468.23 L353.8,468.23 L353.8,467.4 L354.8,467.4 L354.8,460.94 L355.8,460.94 L355.8,465.54 L356.8,465.54 L356.8,428.2 L357.8,428.2 L357.8,428.2 L358.8,428.2 L358.8,428.2 L359.8,428.2 L359.8,428.2 L360.8,428.2 L360.8,428.2 L361.8,428.2 L361.8,466.48 L362.8,466.48 L362.8,466.53 L363.8,466.53 L363.8,467.87 L364.2,467.87 L364.2,474.2Z" fill="#fff"/>
<rect x="300.5" y="426.5" width="65" height="49" rx="4.5" fill="none" stroke="#10bc04" stroke-width="3"/>
<rect x="371.1" y="426.5" width="9.4" height="49" rx="4.5" fill="#5868e8"/>
<path d="M372.4,474.2 L372.4,469.2 L373.4,469.2 L373.4,469.2 L374.4,469.2 L374.4,469.2 L375.4,469.2 L375.4,469.2 L376.4,469.2 L376.4,469.2 L377.4,469.2 L377.4,469.2 L378.4,469.2 L378.4,472.73 L379.2,472.73 L379.2,474.2Z" fill="#fff"/>
<rect x="371.1" y="426.5" width="9.4" height="49" rx="4.5" fill="none" stroke="#2838c0" stroke-width="3"/>
<rect x="385.9" y="426.5" width="0.6" height="49" rx="1.3" fill="#40e4a0"/>
<rect x="385.9" y="426.5" width="0.6" height="49" rx="1.3" fill="none" stroke="#10b478" stroke-width="3"/>
<rect x="389.9" y="426.5" width="11.6" height="49" rx="4.5" fill="#d040e8"/>
<path d="M391.2,474.2 L391.2,466.9 L392.2,466.9 L392.2,466 L393.2,466 L393.2,463.78 L394.2,463.78 L394.2,458.5 L395.2,458.5 L395.2,462.63 L396.2,462.63 L396.2,466.26 L397.2,466.26 L397.2,466.86 L398.2,466.86 L398.2,466.53 L399.2,466.53 L399.2,465.55 L400.2,465.55 L400.2,474.2Z" fill="#fff"/>
<rect x="389.9" y="426.5" width="11.6" height="49" rx="4.5" fill="none" stroke="#a010c0" stroke-width="3"/>
<rect x="405.1" y="426.5" width="40.4" height="49" rx="4.5" fill="#64e434"/>
<path d="M406.4,474.2 L406.4,468.81 L407.4,468.81 L407.4,454.2 L408.4,454.2 L408.4,454.2 L409.4,454.2 L409.4,454.2 L410.4,454.2 L410.4,468.12 L411.4,468.12 L411.4,468.04 L412.4,468.04 L412.4,468.52 L413.4,468.52 L413.4,468.28 L414.4,468.28 L414.4,469.46 L415.4,469.46 L415.4,464.91 L416.4,464.91 L416.4,466.53 L417.4,466.53 L417.4,467.65 L418.4,467.65 L418.4,461.19 L419.4,461.19 L419.4,465.4 L420.4,465.4 L420.4,466.87 L421.4,466.87 L421.4,466.62 L422.4,466.62 L422.4,468.78 L423.4,468.78 L423.4,468.27 L424.4,468.27 L424.4,468.37 L425.4,468.37 L425.4,467.03 L426.4,467.03 L426.4,467.72 L427.4,467.72 L427.4,467.07 L428.4,467.07 L428.4,468.36 L429.4,468.36 L429.4,466.78 L430.4,466.78 L430.4,466.41 L431.4,466.41 L431.4,468.6 L432.4,468.6 L432.4,468.16 L433.4,468.16 L433.4,467.55 L434.4,467.55 L434.4,461.65 L435.4,461.65 L435.4,467.04 L436.4,467.04 L436.4,465.82 L437.4,465.82 L437.4,466.82 L438.4,466.82 L438.4,467.3 L439.4,467.3 L439.4,467.19 L440.4,467.19 L440.4,466.53 L441.4,466.53 L441.4,462.29 L442.4,462.29 L442.4,467.04 L443.4,467.04 L443.4,466.09 L444.2,466.09 L444.2,474.2Z" fill="#fff"/>
<rect x="405.1" y="426.5" width="40.4" height="49" rx="4.5" fill="none" stroke="#38c010" stroke-width="3"/>
<rect x="449.5" y="426.5" width="39" height="49" rx="4.5" fill="#e44478"/>
<path d="M450.8,474.2 L450.8,428.2 L451.8,428.2 L451.8,428.2 L452.8,428.2 L452.8,428.2 L453.8,428.2 L453.8,428.2 L454.8,428.2 L454.8,428.2 L455.8,428.2 L455.8,469.76 L456.8,469.76 L456.8,468.1 L457.8,468.1 L457.8,467.85 L458.8,467.85 L458.8,428.2 L459.8,428.2 L459.8,428.2 L460.8,428.2 L460.8,428.2 L461.8,428.2 L461.8,470.05 L462.8,470.05 L462.8,468.56 L463.8,468.56 L463.8,468.95 L464.8,468.95 L464.8,470.28 L465.8,470.28 L465.8,468.62 L466.8,468.62 L466.8,468.07 L467.8,468.07 L467.8,465.97 L468.8,465.97 L468.8,469.66 L469.8,469.66 L469.8,469.39 L470.8,469.39 L470.8,469.62 L471.8,469.62 L471.8,470.12 L472.8,470.12 L472.8,466.43 L473.8,466.43 L473.8,469.18 L474.8,469.18 L474.8,469.02 L475.8,469.02 L475.8,469.73 L476.8,469.73 L476.8,469.93 L477.8,469.93 L477.8,468.67 L478.8,468.67 L478.8,469.13 L479.8,469.13 L479.8,469.32 L480.8,469.32 L480.8,470.39 L481.8,470.39 L481.8,464.67 L482.8,464.67 L482.8,470.33 L483.8,470.33 L483.8,470.43 L484.8,470.43 L484.8,469.47 L485.8,469.47 L485.8,469.3 L486.8,469.3 L486.8,468.78 L487.2,468.78 L487.2,474.2Z" fill="#fff"/>
<rect x="449.5" y="426.5" width="39" height="49" rx="4.5" fill="none" stroke="#c01048" stroke-width="3"/>
<rect x="492" y="426.5" width="49.8" height="49" rx="4.5" fill="#dcb434"/>
<path d="M493.3,474.2 L493.3,469.95 L494.3,469.95 L494.3,470.38 L495.3,470.38 L495.3,470.38 L496.3,470.38 L496.3,428.2 L497.3,428.2 L497.3,428.2 L498.3,428.2 L498.3,428.2 L499.3,428.2 L499.3,428.2 L500.3,428.2 L500.3,465.56 L501.3,465.56 L501.3,470.55 L502.3,470.55 L502.3,470.21 L503.3,470.21 L503.3,469.34 L504.3,469.34 L504.3,469.09 L505.3,469.09 L505.3,434.2 L506.3,434.2 L506.3,434.2 L507.3,434.2 L507.3,434.2 L508.3,434.2 L508.3,465.91 L509.3,465.91 L509.3,468.78 L510.3,468.78 L510.3,465.54 L511.3,465.54 L511.3,468.51 L512.3,468.51 L512.3,468.49 L513.3,468.49 L513.3,468.1 L514.3,468.1 L514.3,467.71 L515.3,467.71 L515.3,467.54 L516.3,467.54 L516.3,469.16 L517.3,469.16 L517.3,468.54 L518.3,468.54 L518.3,464.4 L519.3,464.4 L519.3,467.78 L520.3,467.78 L520.3,466.18 L521.3,466.18 L521.3,469.58 L522.3,469.58 L522.3,468.44 L523.3,468.44 L523.3,464.03 L524.3,464.03 L524.3,467.5 L525.3,467.5 L525.3,467.45 L526.3,467.45 L526.3,469.76 L527.3,469.76 L527.3,469.53 L528.3,469.53 L528.3,468.68 L529.3,468.68 L529.3,468.27 L530.3,468.27 L530.3,469.99 L531.3,469.99 L531.3,470.53 L532.3,470.53 L532.3,468.92 L533.3,468.92 L533.3,465.66 L534.3,465.66 L534.3,470.25 L535.3,470.25 L535.3,470.52 L536.3,470.52 L536.3,470.05 L537.3,470.05 L537.3,469.07 L538.3,469.07 L538.3,470.01 L539.3,470.01 L539.3,469.92 L540.3,469.92 L540.3,468.48 L540.5,468.48 L540.5,474.2Z" fill="#fff"/>
<rect x="492" y="426.5" width="49.8" height="49" rx="4.5" fill="none" stroke="#b89010" stroke-width="3"/>
<rect x="546" y="426.5" width="188.1" height="49" rx="4.5" fill="#b440ec"/>
<path d="M547.3,474.2 L547.3,457.2 L548.3,457.2 L548.3,457.2 L549.3,457.2 L549.3,469.57 L550.3,469.57 L550.3,469.41 L551.3,469.41 L551.3,469.18 L552.3,469.18 L552.3,469.54 L553.3,469.54 L553.3,469.57 L554.3,469.57 L554.3,470.3 L555.3,470.3 L555.3,468.62 L556.3,468.62 L556.3,463.15 L557.3,463.15 L557.3,468.8 L558.3,468.8 L558.3,468.88 L559.3,468.88 L559.3,469.79 L560.3,469.79 L560.3,470.31 L561.3,470.31 L561.3,470.81 L562.3,470.81 L562.3,469.72 L563.3,469.72 L563.3,464.63 L564.3,464.63 L564.3,469.6 L565.3,469.6 L565.3,468.6 L566.3,468.6 L566.3,470.13 L567.3,470.13 L567.3,469.27 L568.3,469.27 L568.3,428.2 L569.3,428.2 L569.3,428.2 L570.3,428.2 L570.3,428.2 L571.3,428.2 L571.3,428.2 L572.3,428.2 L572.3,428.2 L573.3,428.2 L573.3,428.2 L574.3,428.2 L574.3,428.2 L575.3,428.2 L575.3,428.2 L576.3,428.2 L576.3,428.2 L577.3,428.2 L577.3,428.2 L578.3,428.2 L578.3,428.2 L579.3,428.2 L579.3,428.2 L580.3,428.2 L580.3,428.2 L581.3,428.2 L581.3,428.2 L582.3,428.2 L582.3,428.2 L583.3,428.2 L583.3,428.2 L584.3,428.2 L584.3,428.2 L585.3,428.2 L585.3,428.2 L586.3,428.2 L586.3,428.2 L587.3,428.2 L587.3,428.2 L588.3,428.2 L588.3,428.2 L589.3,428.2 L589.3,467.98 L590.3,467.98 L590.3,467.72 L591.3,467.72 L591.3,467.82 L592.3,467.82 L592.3,468.48 L593.3,468.48 L593.3,468.1 L594.3,468.1 L594.3,467.85 L595.3,467.85 L595.3,467.53 L596.3,467.53 L596.3,467.46 L597.3,467.46 L597.3,467.37 L598.3,467.37 L598.3,469.2 L599.3,469.2 L599.3,469.9 L600.3,469.9 L600.3,469.55 L601.3,469.55 L601.3,469.34 L602.3,469.34 L602.3,468.77 L603.3,468.77 L603.3,469.33 L604.3,469.33 L604.3,468.48 L605.3,468.48 L605.3,467.8 L606.3,467.8 L606.3,465 L607.3,465 L607.3,468.24 L608.3,468.24 L608.3,468.62 L609.3,468.62 L609.3,464.77 L610.3,464.77 L610.3,470.12 L611.3,470.12 L611.3,468.71 L612.3,468.71 L612.3,468.76 L613.3,468.76 L613.3,469.47 L614.3,469.47 L614.3,469.68 L615.3,469.68 L615.3,469.06 L616.3,469.06 L616.3,470.22 L617.3,470.22 L617.3,469.03 L618.3,469.03 L618.3,468.72 L619.3,468.72 L619.3,470.02 L620.3,470.02 L620.3,470.68 L621.3,470.68 L621.3,470.54 L622.3,470.54 L622.3,468.48 L623.3,468.48 L623.3,469.66 L624.3,469.66 L624.3,469.08 L625.3,469.08 L625.3,459.2 L626.3,459.2 L626.3,459.2 L627.3,459.2 L627.3,467.54 L628.3,467.54 L628.3,467.76 L629.3,467.76 L629.3,466.1 L630.3,466.1 L630.3,467.84 L631.3,467.84 L631.3,467.92 L632.3,467.92 L632.3,469.14 L633.3,469.14 L633.3,469.04 L634.3,469.04 L634.3,469.11 L635.3,469.11 L635.3,459.2 L636.3,459.2 L636.3,459.2 L637.3,459.2 L637.3,459.2 L638.3,459.2 L638.3,469.51 L639.3,469.51 L639.3,468.96 L640.3,468.96 L640.3,469.06 L641.3,469.06 L641.3,468.09 L642.3,468.09 L642.3,469.17 L643.3,469.17 L643.3,470.34 L644.3,470.34 L644.3,469.12 L645.3,469.12 L645.3,469.31 L646.3,469.31 L646.3,468.22 L647.3,468.22 L647.3,465.23 L648.3,465.23 L648.3,469.8 L649.3,469.8 L649.3,468.39 L650.3,468.39 L650.3,468.69 L651.3,468.69 L651.3,470.2 L652.3,470.2 L652.3,468.91 L653.3,468.91 L653.3,469.67 L654.3,469.67 L654.3,469.91 L655.3,469.91 L655.3,469.65 L656.3,469.65 L656.3,468.97 L657.3,468.97 L657.3,459.2 L658.3,459.2 L658.3,459.2 L659.3,459.2 L659.3,468.22 L660.3,468.22 L660.3,469.73 L661.3,469.73 L661.3,468.54 L662.3,468.54 L662.3,469.37 L663.3,469.37 L663.3,428.2 L664.3,428.2 L664.3,428.2 L665.3,428.2 L665.3,428.2 L666.3,428.2 L666.3,470.77 L667.3,470.77 L667.3,470.05 L668.3,470.05 L668.3,468.3 L669.3,468.3 L669.3,469.38 L670.3,469.38 L670.3,470.05 L671.3,470.05 L671.3,469.66 L672.3,469.66 L672.3,469.98 L673.3,469.98 L673.3,469.77 L674.3,469.77 L674.3,470.01 L675.3,470.01 L675.3,468.42 L676.3,468.42 L676.3,468.05 L677.3,468.05 L677.3,468.07 L678.3,468.07 L678.3,469.71 L679.3,469.71 L679.3,469.46 L680.3,469.46 L680.3,468.85 L681.3,468.85 L681.3,469.66 L682.3,469.66 L682.3,468.28 L683.3,468.28 L683.3,469.43 L684.3,469.43 L684.3,469.9 L685.3,469.9 L685.3,470.64 L686.3,470.64 L686.3,428.2 L687.3,428.2 L687.3,428.2 L688.3,428.2 L688.3,428.2 L689.3,428.2 L689.3,468.65 L690.3,468.65 L690.3,469.23 L691.3,469.23 L691.3,470.22 L692.3,470.22 L692.3,469.18 L693.3,469.18 L693.3,468.85 L694.3,468.85 L694.3,468.36 L695.3,468.36 L695.3,467.76 L696.3,467.76 L696.3,469.11 L697.3,469.11 L697.3,468.37 L698.3,468.37 L698.3,469.73 L699.3,469.73 L699.3,469.3 L700.3,469.3 L700.3,468.8 L701.3,468.8 L701.3,470.01 L702.3,470.01 L702.3,470.61 L703.3,470.61 L703.3,469.69 L704.3,469.69 L704.3,468.93 L705.3,468.93 L705.3,469.36 L706.3,469.36 L706.3,469.84 L707.3,469.84 L707.3,468.68 L708.3,468.68 L708.3,469.92 L709.3,469.92 L709.3,468.79 L710.3,468.79 L710.3,468.02 L711.3,468.02 L711.3,468.16 L712.3,468.16 L712.3,468.45 L713.3,468.45 L713.3,469.9 L714.3,469.9 L714.3,468.91 L715.3,468.91 L715.3,465.87 L716.3,465.87 L716.3,468.53 L717.3,468.53 L717.3,469.71 L718.3,469.71 L718.3,470.43 L719.3,470.43 L719.3,468.4 L720.3,468.4 L720.3,467.98 L721.3,467.98 L721.3,468.59 L722.3,468.59 L722.3,464.25 L723.3,464.25 L723.3,468.47 L724.3,468.47 L724.3,468.79 L725.3,468.79 L725.3,467.61 L726.3,467.61 L726.3,468.54 L727.3,468.54 L727.3,468.68 L728.3,468.68 L728.3,467.38 L729.3,467.38 L729.3,467.7 L730.3,467.7 L730.3,468.11 L731.3,468.11 L731.3,468.28 L732.3,468.28 L732.3,466.77 L732.8,466.77 L732.8,474.2Z" fill="#fff"/>
<rect x="546" y="426.5" width="188.1" height="49" rx="4.5" fill="none" stroke="#8a10c8" stroke-width="3"/>
<rect x="738.3" y="426.5" width="20.5" height="49" rx="4.5" fill="#40e4a0"/>
<path d="M739.6,474.2 L739.6,466.03 L740.6,466.03 L740.6,460.2 L741.6,460.2 L741.6,460.2 L742.6,460.2 L742.6,460.2 L743.6,460.2 L743.6,464.43 L744.6,464.43 L744.6,463.93 L745.6,463.93 L745.6,462.67 L746.6,462.67 L746.6,462.48 L747.6,462.48 L747.6,464.26 L748.6,464.26 L748.6,465.89 L749.6,465.89 L749.6,466.22 L750.6,466.22 L750.6,464.2 L751.6,464.2 L751.6,464.38 L752.6,464.38 L752.6,465.47 L753.6,465.47 L753.6,465.49 L754.6,465.49 L754.6,463.73 L755.6,463.73 L755.6,464.28 L756.6,464.28 L756.6,463.43 L757.5,463.43 L757.5,474.2Z" fill="#fff"/>
<rect x="738.3" y="426.5" width="20.5" height="49" rx="4.5" fill="none" stroke="#10b478" stroke-width="3"/>
<rect x="819.9" y="426.5" width="63.9" height="49" rx="4.5" fill="#8844ee"/>
<path d="M821.2,474.2 L821.2,466.42 L822.2,466.42 L822.2,464.58 L823.2,464.58 L823.2,463.7 L824.2,463.7 L824.2,462.49 L825.2,462.49 L825.2,459.88 L826.2,459.88 L826.2,460.2 L827.2,460.2 L827.2,460.2 L828.2,460.2 L828.2,460.2 L829.2,460.2 L829.2,467.31 L830.2,467.31 L830.2,463.38 L831.2,463.38 L831.2,466.93 L832.2,466.93 L832.2,466.56 L833.2,466.56 L833.2,464.09 L834.2,464.09 L834.2,466.88 L835.2,466.88 L835.2,467.59 L836.2,467.59 L836.2,466.19 L837.2,466.19 L837.2,463.4 L838.2,463.4 L838.2,464.69 L839.2,464.69 L839.2,428.2 L840.2,428.2 L840.2,428.2 L841.2,428.2 L841.2,428.2 L842.2,428.2 L842.2,428.2 L843.2,428.2 L843.2,428.2 L844.2,428.2 L844.2,428.2 L845.2,428.2 L845.2,428.2 L846.2,428.2 L846.2,428.2 L847.2,428.2 L847.2,428.2 L848.2,428.2 L848.2,428.2 L849.2,428.2 L849.2,428.2 L850.2,428.2 L850.2,428.2 L851.2,428.2 L851.2,428.2 L852.2,428.2 L852.2,461.84 L853.2,461.84 L853.2,464.76 L854.2,464.76 L854.2,465.12 L855.2,465.12 L855.2,460.2 L856.2,460.2 L856.2,460.2 L857.2,460.2 L857.2,460.2 L858.2,460.2 L858.2,467.67 L859.2,467.67 L859.2,466.29 L860.2,466.29 L860.2,464.87 L861.2,464.87 L861.2,459.05 L862.2,459.05 L862.2,467.59 L863.2,467.59 L863.2,466.56 L864.2,466.56 L864.2,464.56 L865.2,464.56 L865.2,464.2 L866.2,464.2 L866.2,465 L867.2,465 L867.2,463 L868.2,463 L868.2,466.7 L869.2,466.7 L869.2,463.19 L870.2,463.19 L870.2,465.06 L871.2,465.06 L871.2,463.47 L872.2,463.47 L872.2,460.77 L873.2,460.77 L873.2,462.07 L874.2,462.07 L874.2,463.06 L875.2,463.06 L875.2,463.42 L876.2,463.42 L876.2,463.68 L877.2,463.68 L877.2,463.95 L878.2,463.95 L878.2,465.99 L879.2,465.99 L879.2,467.98 L880.2,467.98 L880.2,468.23 L881.2,468.23 L881.2,465.17 L882.2,465.17 L882.2,463.59 L882.5,463.59 L882.5,474.2Z" fill="#fff"/>
<rect x="819.9" y="426.5" width="63.9" height="49" rx="4.5" fill="none" stroke="#5008c8" stroke-width="3"/>
<rect x="907.9" y="426.5" width="66.2" height="49" rx="4.5" fill="#36e468"/>
<path d="M909.2,474.2 L909.2,465.15 L910.2,465.15 L910.2,464.06 L911.2,464.06 L911.2,457.35 L912.2,457.35 L912.2,464.27 L913.2,464.27 L913.2,464.87 L914.2,464.87 L914.2,464.71 L915.2,464.71 L915.2,462.22 L916.2,462.22 L916.2,466.53 L917.2,466.53 L917.2,467.59 L918.2,467.59 L918.2,467.89 L919.2,467.89 L919.2,464.93 L920.2,464.93 L920.2,466.58 L921.2,466.58 L921.2,466.82 L922.2,466.82 L922.2,467.29 L923.2,467.29 L923.2,465.75 L924.2,465.75 L924.2,466.98 L925.2,466.98 L925.2,464.46 L926.2,464.46 L926.2,466.49 L927.2,466.49 L927.2,466.42 L928.2,466.42 L928.2,467 L929.2,467 L929.2,463.96 L930.2,463.96 L930.2,464.18 L931.2,464.18 L931.2,464.97 L932.2,464.97 L932.2,439.2 L933.2,439.2 L933.2,439.2 L934.2,439.2 L934.2,464.73 L935.2,464.73 L935.2,464.13 L936.2,464.13 L936.2,463.21 L937.2,463.21 L937.2,458.6 L938.2,458.6 L938.2,463.3 L939.2,463.3 L939.2,463.06 L940.2,463.06 L940.2,462.72 L941.2,462.72 L941.2,463.53 L942.2,463.53 L942.2,465.39 L943.2,465.39 L943.2,461.96 L944.2,461.96 L944.2,463.59 L945.2,463.59 L945.2,462.95 L946.2,462.95 L946.2,463.1 L947.2,463.1 L947.2,463.48 L948.2,463.48 L948.2,465.57 L949.2,465.57 L949.2,467.2 L950.2,467.2 L950.2,464.39 L951.2,464.39 L951.2,465.59 L952.2,465.59 L952.2,464.26 L953.2,464.26 L953.2,463.72 L954.2,463.72 L954.2,466.22 L955.2,466.22 L955.2,466.29 L956.2,466.29 L956.2,466.1 L957.2,466.1 L957.2,463.7 L958.2,463.7 L958.2,464.55 L959.2,464.55 L959.2,464.82 L960.2,464.82 L960.2,465.43 L961.2,465.43 L961.2,464.54 L962.2,464.54 L962.2,466.57 L963.2,466.57 L963.2,466.51 L964.2,466.51 L964.2,467.55 L965.2,467.55 L965.2,465.18 L966.2,465.18 L966.2,466.46 L967.2,466.46 L967.2,464.91 L968.2,464.91 L968.2,464.14 L969.2,464.14 L969.2,465.81 L970.2,465.81 L970.2,467.26 L971.2,467.26 L971.2,467.05 L972.2,467.05 L972.2,464.04 L972.8,464.04 L972.8,474.2Z" fill="#fff"/>
<rect x="907.9" y="426.5" width="66.2" height="49" rx="4.5" fill="none" stroke="#10b840" stroke-width="3"/>
<rect x="979.5" y="426.5" width="4" height="49" rx="3" fill="#d040e8"/>
<path d="M980.8,474.2 L980.8,434.2 L981.8,434.2 L981.8,434.2 L982.2,434.2 L982.2,474.2Z" fill="#fff"/>
<rect x="979.5" y="426.5" width="4" height="49" rx="3" fill="none" stroke="#a010c0" stroke-width="3"/>
<rect x="58" y="11" width="624.5" height="2" fill="#3a3a3a"/>
<rect x="58" y="95" width="936.6" height="1" fill="#000"/>
<rect x="220.4" y="12" width="1.2" height="6" fill="#3a3a3a"/>
<text x="220.4" y="28.1" text-anchor="middle" font-family="DejaVu Sans, sans-serif" font-size="13.5" letter-spacing="1.0" fill="#1c2030" stroke="#1c2030" stroke-width="0.3">500000</text>
<rect x="382.6" y="12" width="1.2" height="6" fill="#3a3a3a"/>
<text x="382.6" y="28.1" text-anchor="middle" font-family="DejaVu Sans, sans-serif" font-size="13.5" letter-spacing="1.0" fill="#1c2030" stroke="#1c2030" stroke-width="0.3">1000000</text>
<rect x="544.8" y="12" width="1.2" height="6" fill="#3a3a3a"/>
<text x="544.8" y="28.1" text-anchor="middle" font-family="DejaVu Sans, sans-serif" font-size="13.5" letter-spacing="1.0" fill="#1c2030" stroke="#1c2030" stroke-width="0.3">1500000</text>
<rect x="58" y="176" width="845.5" height="2" fill="#3a3a3a"/>
<rect x="58" y="260" width="936.6" height="1" fill="#000"/>
<rect x="220.4" y="177" width="1.2" height="6" fill="#3a3a3a"/>
<text x="220.4" y="191.6" text-anchor="middle" font-family="DejaVu Sans, sans-serif" font-size="13.5" letter-spacing="1.0" fill="#1c2030" stroke="#1c2030" stroke-width="0.3">500000</text>
<rect x="382.6" y="177" width="1.2" height="6" fill="#3a3a3a"/>
<text x="382.6" y="191.6" text-anchor="middle" font-family="DejaVu Sans, sans-serif" font-size="13.5" letter-spacing="1.0" fill="#1c2030" stroke="#1c2030" stroke-width="0.3">1000000</text>
<rect x="544.8" y="177" width="1.2" height="6" fill="#3a3a3a"/>
<text x="544.8" y="191.6" text-anchor="middle" font-family="DejaVu Sans, sans-serif" font-size="13.5" letter-spacing="1.0" fill="#1c2030" stroke="#1c2030" stroke-width="0.3">1500000</text>
<rect x="707" y="177" width="1.2" height="6" fill="#3a3a3a"/>
<text x="707" y="191.6" text-anchor="middle" font-family="DejaVu Sans, sans-serif" font-size="13.5" letter-spacing="1.0" fill="#1c2030" stroke="#1c2030" stroke-width="0.3">2000000</text>
<rect x="869.2" y="177" width="1.2" height="6" fill="#3a3a3a"/>
<text x="869.2" y="191.6" text-anchor="middle" font-family="DejaVu Sans, sans-serif" font-size="13.5" letter-spacing="1.0" fill="#1c2030" stroke="#1c2030" stroke-width="0.3">2500000</text>
<rect x="58" y="340" width="937" height="2" fill="#3a3a3a"/>
<rect x="58" y="424" width="936.6" height="1" fill="#000"/>
<rect x="220.4" y="341" width="1.2" height="6" fill="#3a3a3a"/>
<text x="220.4" y="356.6" text-anchor="middle" font-family="DejaVu Sans, sans-serif" font-size="13.5" letter-spacing="1.0" fill="#1c2030" stroke="#1c2030" stroke-width="0.3">500000</text>
<rect x="382.6" y="341" width="1.2" height="6" fill="#3a3a3a"/>
<text x="382.6" y="356.6" text-anchor="middle" font-family="DejaVu Sans, sans-serif" font-size="13.5" letter-spacing="1.0" fill="#1c2030" stroke="#1c2030" stroke-width="0.3">1000000</text>
<rect x="544.8" y="341" width="1.2" height="6" fill="#3a3a3a"/>
<text x="544.8" y="356.6" text-anchor="middle" font-family="DejaVu Sans, sans-serif" font-size="13.5" letter-spacing="1.0" fill="#1c2030" stroke="#1c2030" stroke-width="0.3">1500000</text>
<rect x="707" y="341" width="1.2" height="6" fill="#3a3a3a"/>
<text x="707" y="356.6" text-anchor="middle" font-family="DejaVu Sans, sans-serif" font-size="13.5" letter-spacing="1.0" fill="#1c2030" stroke="#1c2030" stroke-width="0.3">2000000</text>
<rect x="869.2" y="341" width="1.2" height="6" fill="#3a3a3a"/>
<text x="869.2" y="356.6" text-anchor="middle" font-family="DejaVu Sans, sans-serif" font-size="13.5" letter-spacing="1.0" fill="#1c2030" stroke="#1c2030" stroke-width="0.3">2500000</text>
<line x1="58.5" y1="96" x2="58.5" y2="154" stroke="#e62828" stroke-width="1"/>
<line x1="682.5" y1="42" x2="682.5" y2="154" stroke="#e62828" stroke-width="1"/>
<line x1="58.5" y1="261" x2="58.5" y2="318" stroke="#e62828" stroke-width="1"/>
<line x1="902.5" y1="207" x2="902.5" y2="318" stroke="#e62828" stroke-width="1"/>
<line x1="58.5" y1="425" x2="58.5" y2="481" stroke="#e62828" stroke-width="1"/>
<line x1="994.3" y1="371" x2="994.3" y2="479" stroke="#e62828" stroke-width="1"/>
<polyline points="100.1,96 100.1,151 102.9,207.5" fill="none" stroke="#1ac81d" stroke-width="1.25" stroke-linejoin="round"/>
<polyline points="102.9,261 102.9,315.5 103.5,371.5" fill="none" stroke="#1ac81d" stroke-width="1.25" stroke-linejoin="round"/>
<polyline points="175.5,96 175.5,151 190.5,207.5" fill="none" stroke="#26b5c7" stroke-width="1.25" stroke-linejoin="round"/>
<polyline points="190.5,261 190.5,315.5 207.5,371.5" fill="none" stroke="#26b5c7" stroke-width="1.25" stroke-linejoin="round"/>
<polyline points="229.1,96 229.1,151 255.5,207.5 255.5,315.5 287.5,371.5" fill="none" stroke="#4618d0" stroke-width="1.25" stroke-linejoin="round"/>
<polyline points="240.5,96 240.5,151 268.5,207.5 268.5,315.5 981.8,371.5 981.8,424" fill="none" stroke="#c61bc6" stroke-width="1.25" stroke-linejoin="round"/>
<polyline points="245,96 245,151 276,207.5 276,315.5 977,371.5 977,424" fill="none" stroke="#ab6b16" stroke-width="1.25" stroke-linejoin="round"/>
<polyline points="281.7,96 281.7,151 311.5,207.5 311.5,315.5 940.9,371.5 940.9,424" fill="none" stroke="#1dc74e" stroke-width="1.25" stroke-linejoin="round"/>
<polyline points="317.1,96 317.1,151 347.5,207.5 347.5,315.5 904.5,371.5" fill="none" stroke="#2ca9c3" stroke-width="1.25" stroke-linejoin="round"/>
<polyline points="343.9,96 343.9,151 389.5,207.5 389.5,315.5 851.9,371.5 851.9,424" fill="none" stroke="#641dd5" stroke-width="1.25" stroke-linejoin="round"/>
<polyline points="368.5,96 368.5,151 418.1,207.5 418.1,315.5 816.5,371.5 816.5,424" fill="none" stroke="#c62b1b" stroke-width="1.25" stroke-linejoin="round"/>
<polyline points="371,96 371,151 131.5,371.5" fill="none" stroke="#1dc74e" stroke-width="1.25" stroke-linejoin="round"/>
<polyline points="373.5,96 373.5,151 145.5,371.5" fill="none" stroke="#641dd5" stroke-width="1.25" stroke-linejoin="round"/>
<polyline points="372.5,96 372.5,151 267.5,371.5" fill="none" stroke="#4c7dcd" stroke-width="1.25" stroke-linejoin="round"/>
<polyline points="371,96 371,151 480.5,207.5 480.5,315.5 770.5,371.5" fill="none" stroke="#66c61b" stroke-width="1.25" stroke-linejoin="round"/>
<polyline points="384.5,96 384.5,151 464.1,207.5 464.1,315.5 774.5,371.5" fill="none" stroke="#cd2175" stroke-width="1.25" stroke-linejoin="round"/>
<polyline points="395,96 395,151 445.5,207.5 445.5,315.5 787,371.5 787,424" fill="none" stroke="#bb6b1b" stroke-width="1.25" stroke-linejoin="round"/>
<polyline points="407.8,96 407.8,151 432.9,207.5 432.9,315.5 800.5,371.5" fill="none" stroke="#66c61b" stroke-width="1.25" stroke-linejoin="round"/>
<polyline points="432.5,96 432.5,151 494.1,207.5 494.1,315.5 749.7,371.5 749.7,424" fill="none" stroke="#21c586" stroke-width="1.25" stroke-linejoin="round"/>
<polyline points="444.9,96 444.9,151 356.5,207.5 356.5,315.5 904.5,371.5" fill="none" stroke="#2c5bcc" stroke-width="1.25" stroke-linejoin="round"/>
<polyline points="506.1,96 506.1,151 591.5,207.5 591.5,315.5 639.9,371.5 639.9,424" fill="none" stroke="#9921d5" stroke-width="1.25" stroke-linejoin="round"/>
<polyline points="577.3,96 577.3,151 746.1,207.5 746.1,315.5 469.3,371.5 469.3,424" fill="none" stroke="#cd2259" stroke-width="1.25" stroke-linejoin="round"/>
<polyline points="581.5,96 581.5,151 704.1,207.5 704.1,315.5 516.1,371.5 516.1,424" fill="none" stroke="#c59d1d" stroke-width="1.25" stroke-linejoin="round"/>
<polyline points="583.6,96 583.6,151 785.5,207.5 785.5,315.5 426.9,371.5 426.9,424" fill="none" stroke="#47cd1d" stroke-width="1.25" stroke-linejoin="round"/>
<polyline points="590.2,96 590.2,151 823.5,207.5 823.5,315.5 387.4,371.5 387.4,424" fill="none" stroke="#21c586" stroke-width="1.25" stroke-linejoin="round"/>
<polyline points="599,96 599,151 833.5,207.5 833.5,315.5 375.7,371.5 375.7,424" fill="none" stroke="#3949ce" stroke-width="1.25" stroke-linejoin="round"/>
<polyline points="614.4,96 614.4,151 813.5,207.5 813.5,315.5 396.5,371.5 396.5,424" fill="none" stroke="#b121ce" stroke-width="1.25" stroke-linejoin="round"/>
<polyline points="624.6,96 624.6,151 826.2,207.5 826.2,315.5 383.5,371.5" fill="none" stroke="#cd2259" stroke-width="1.25" stroke-linejoin="round"/>
<polyline points="629.8,96 629.8,151 840.5,207.5 840.5,315.5 367.7,371.5" fill="none" stroke="#c59d1d" stroke-width="1.25" stroke-linejoin="round"/>
<polyline points="656.4,96 656.4,151 873.5,207.5 873.5,315.5 333.3,371.5 333.3,424" fill="none" stroke="#22ca15" stroke-width="1.25" stroke-linejoin="round"/>
<polyline points="682.1,96 682.1,151 77.5,207.5" fill="none" stroke="#2ca9c3" stroke-width="1.25" stroke-linejoin="round"/>
<polyline points="683.5,96 683.5,151 902.5,207.5" fill="none" stroke="#3949ce" stroke-width="1.25" stroke-linejoin="round"/>
<text x="57.6" y="168" font-family="DejaVu Sans, sans-serif" font-weight="bold" font-size="13" fill="#1c2030">Bs1.txt (no annotations loaded)</text>
<text x="57.6" y="332" font-family="DejaVu Sans, sans-serif" font-weight="bold" font-size="13" fill="#1c2030">Oi1.txt (no annotations loaded)</text>
<text x="57.6" y="497" font-family="DejaVu Sans, sans-serif" font-weight="bold" font-size="13" fill="#1c2030">Oa1.txt (no annotations loaded)</text>
<text x="7.3" y="91.2" font-family="Liberation Sans, sans-serif" font-weight="bold" font-size="21.3" fill="#000">A</text>
<text x="7.3" y="260.9" font-family="Liberation Sans, sans-serif" font-weight="bold" font-size="21.3" fill="#000">B</text>
<text x="7.3" y="425.4" font-family="Liberation Sans, sans-serif" font-weight="bold" font-size="21.3" fill="#000">C</text>
</svg></body></html>
